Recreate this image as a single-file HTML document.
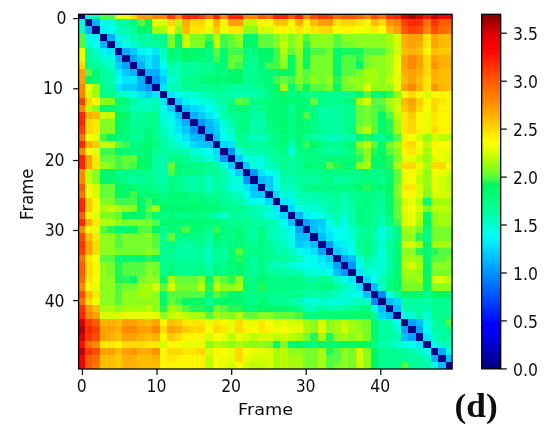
<!DOCTYPE html>
<html><head><meta charset="utf-8"><title>Frame distance matrix (d)</title>
<style>
html,body{margin:0;padding:0;background:#fff;}
body{width:550px;height:430px;overflow:hidden;position:relative;}
svg{position:absolute;left:0;top:0;display:block;}
.t{font-family:"DejaVu Sans","Liberation Sans",sans-serif;font-size:15px;fill:#111;}
.a{font-size:16.5px;}
.d{font-family:"Liberation Serif",serif;font-weight:bold;font-size:33px;fill:#0a0a14;}
</style></head><body>
<svg width="550" height="430" viewBox="0 0 550 430">
<defs>
<linearGradient id="jet" x1="0" y1="1" x2="0" y2="0">
<stop offset="0.0000" stop-color="#000080"/>
<stop offset="0.1108" stop-color="#0000ff"/>
<stop offset="0.1243" stop-color="#0000ff"/>
<stop offset="0.2514" stop-color="#0080ff"/>
<stop offset="0.3405" stop-color="#00dbff"/>
<stop offset="0.3757" stop-color="#00fff2"/>
<stop offset="0.4054" stop-color="#00ffd1"/>
<stop offset="0.4324" stop-color="#00ffad"/>
<stop offset="0.4622" stop-color="#00ff8c"/>
<stop offset="0.4919" stop-color="#00fa73"/>
<stop offset="0.5216" stop-color="#05f761"/>
<stop offset="0.5324" stop-color="#40fa4c"/>
<stop offset="0.5568" stop-color="#7aff26"/>
<stop offset="0.5865" stop-color="#adff08"/>
<stop offset="0.6135" stop-color="#deff00"/>
<stop offset="0.6405" stop-color="#ffff00"/>
<stop offset="0.6757" stop-color="#ffd900"/>
<stop offset="0.7514" stop-color="#ff8c00"/>
<stop offset="0.8108" stop-color="#ff5c00"/>
<stop offset="0.8919" stop-color="#ff0a00"/>
<stop offset="0.9135" stop-color="#fa0000"/>
<stop offset="0.9459" stop-color="#d90000"/>
<stop offset="1.0000" stop-color="#850000"/>
</linearGradient>
<filter id="soft" x="0" y="0" width="100%" height="100%"><feGaussianBlur stdDeviation="0.6"/></filter>
<filter id="tsoft" x="-5%" y="-5%" width="110%" height="110%"><feGaussianBlur stdDeviation="0.45"/></filter>
<clipPath id="cp"><rect x="78.6" y="14.1" width="373.5" height="354.9"/></clipPath>
</defs>
<rect x="0" y="0" width="550" height="430" fill="#fff"/>
<g clip-path="url(#cp)"><g filter="url(#soft)" shape-rendering="crispEdges">
<rect x="78.60" y="14.10" width="6.30" height="5.50" fill="#000080"/>
<rect x="84.60" y="14.10" width="7.83" height="5.50" fill="#00ffd1"/>
<rect x="92.13" y="14.10" width="7.83" height="5.50" fill="#00ffbf"/>
<rect x="99.66" y="14.10" width="15.36" height="5.50" fill="#53fc40"/>
<rect x="114.72" y="14.10" width="15.36" height="5.50" fill="#e8ff00"/>
<rect x="129.78" y="14.10" width="7.83" height="5.50" fill="#ffd900"/>
<rect x="137.30" y="14.10" width="15.36" height="5.50" fill="#ffa200"/>
<rect x="152.36" y="14.10" width="15.36" height="5.50" fill="#ff8800"/>
<rect x="167.42" y="14.10" width="7.83" height="5.50" fill="#ff4100"/>
<rect x="174.95" y="14.10" width="7.83" height="5.50" fill="#ff8800"/>
<rect x="182.48" y="14.10" width="15.36" height="5.50" fill="#ff2500"/>
<rect x="197.54" y="14.10" width="7.83" height="5.50" fill="#ff4100"/>
<rect x="205.07" y="14.10" width="7.83" height="5.50" fill="#ff7200"/>
<rect x="212.60" y="14.10" width="7.83" height="5.50" fill="#ff2500"/>
<rect x="220.13" y="14.10" width="7.83" height="5.50" fill="#ff8800"/>
<rect x="227.65" y="14.10" width="15.36" height="5.50" fill="#ff2500"/>
<rect x="242.71" y="14.10" width="15.36" height="5.50" fill="#ff8800"/>
<rect x="257.77" y="14.10" width="7.83" height="5.50" fill="#ff5c00"/>
<rect x="265.30" y="14.10" width="7.83" height="5.50" fill="#ff7200"/>
<rect x="272.83" y="14.10" width="15.36" height="5.50" fill="#ff2500"/>
<rect x="287.89" y="14.10" width="7.83" height="5.50" fill="#ff5c00"/>
<rect x="295.42" y="14.10" width="7.83" height="5.50" fill="#ff2500"/>
<rect x="302.95" y="14.10" width="7.83" height="5.50" fill="#ff8800"/>
<rect x="310.47" y="14.10" width="7.83" height="5.50" fill="#ff4e00"/>
<rect x="318.00" y="14.10" width="7.83" height="5.50" fill="#ff3300"/>
<rect x="325.53" y="14.10" width="7.83" height="5.50" fill="#ff4100"/>
<rect x="333.06" y="14.10" width="7.83" height="5.50" fill="#ff7200"/>
<rect x="340.59" y="14.10" width="15.36" height="5.50" fill="#ff5c00"/>
<rect x="355.65" y="14.10" width="7.83" height="5.50" fill="#ff6700"/>
<rect x="363.18" y="14.10" width="7.83" height="5.50" fill="#ff8800"/>
<rect x="370.71" y="14.10" width="7.83" height="5.50" fill="#ff4e00"/>
<rect x="378.24" y="14.10" width="7.83" height="5.50" fill="#ff7200"/>
<rect x="385.77" y="14.10" width="7.83" height="5.50" fill="#ff3300"/>
<rect x="393.30" y="14.10" width="7.83" height="5.50" fill="#ff2500"/>
<rect x="400.82" y="14.10" width="7.83" height="5.50" fill="#d90000"/>
<rect x="408.35" y="14.10" width="7.83" height="5.50" fill="#af0000"/>
<rect x="415.88" y="14.10" width="7.83" height="5.50" fill="#d90000"/>
<rect x="423.41" y="14.10" width="7.83" height="5.50" fill="#ff0a00"/>
<rect x="430.94" y="14.10" width="7.83" height="5.50" fill="#c40000"/>
<rect x="438.47" y="14.10" width="13.93" height="5.50" fill="#f40000"/>
<rect x="78.60" y="19.30" width="6.30" height="7.44" fill="#00ffd1"/>
<rect x="84.60" y="19.30" width="7.83" height="7.44" fill="#000080"/>
<rect x="92.13" y="19.30" width="7.83" height="7.44" fill="#00afff"/>
<rect x="99.66" y="19.30" width="7.83" height="7.44" fill="#00ffe9"/>
<rect x="107.19" y="19.30" width="7.83" height="7.44" fill="#00ffdd"/>
<rect x="114.72" y="19.30" width="15.36" height="7.44" fill="#00ff9e"/>
<rect x="129.78" y="19.30" width="7.83" height="7.44" fill="#00fd83"/>
<rect x="137.30" y="19.30" width="7.83" height="7.44" fill="#53fc40"/>
<rect x="144.83" y="19.30" width="7.83" height="7.44" fill="#04f866"/>
<rect x="152.36" y="19.30" width="7.83" height="7.44" fill="#e8ff00"/>
<rect x="159.89" y="19.30" width="7.83" height="7.44" fill="#d4ff02"/>
<rect x="167.42" y="19.30" width="7.83" height="7.44" fill="#ffd900"/>
<rect x="174.95" y="19.30" width="7.83" height="7.44" fill="#bcff05"/>
<rect x="182.48" y="19.30" width="7.83" height="7.44" fill="#ffb000"/>
<rect x="190.01" y="19.30" width="15.36" height="7.44" fill="#ffd900"/>
<rect x="205.07" y="19.30" width="7.83" height="7.44" fill="#f8ff00"/>
<rect x="212.60" y="19.30" width="7.83" height="7.44" fill="#ffb000"/>
<rect x="220.13" y="19.30" width="7.83" height="7.44" fill="#fff600"/>
<rect x="227.65" y="19.30" width="15.36" height="7.44" fill="#ffa200"/>
<rect x="242.71" y="19.30" width="15.36" height="7.44" fill="#bcff05"/>
<rect x="257.77" y="19.30" width="7.83" height="7.44" fill="#fff600"/>
<rect x="265.30" y="19.30" width="7.83" height="7.44" fill="#f8ff00"/>
<rect x="272.83" y="19.30" width="15.36" height="7.44" fill="#ffcb00"/>
<rect x="287.89" y="19.30" width="7.83" height="7.44" fill="#fff600"/>
<rect x="295.42" y="19.30" width="7.83" height="7.44" fill="#ffb000"/>
<rect x="302.95" y="19.30" width="7.83" height="7.44" fill="#fff600"/>
<rect x="310.47" y="19.30" width="7.83" height="7.44" fill="#ffbd00"/>
<rect x="318.00" y="19.30" width="15.36" height="7.44" fill="#ffa200"/>
<rect x="333.06" y="19.30" width="7.83" height="7.44" fill="#ffe700"/>
<rect x="340.59" y="19.30" width="15.36" height="7.44" fill="#ffd900"/>
<rect x="355.65" y="19.30" width="7.83" height="7.44" fill="#ffe700"/>
<rect x="363.18" y="19.30" width="7.83" height="7.44" fill="#fff600"/>
<rect x="370.71" y="19.30" width="7.83" height="7.44" fill="#ffbd00"/>
<rect x="378.24" y="19.30" width="7.83" height="7.44" fill="#ffd900"/>
<rect x="385.77" y="19.30" width="7.83" height="7.44" fill="#ff9400"/>
<rect x="393.30" y="19.30" width="7.83" height="7.44" fill="#ff8800"/>
<rect x="400.82" y="19.30" width="7.83" height="7.44" fill="#ff4100"/>
<rect x="408.35" y="19.30" width="7.83" height="7.44" fill="#ff2500"/>
<rect x="415.88" y="19.30" width="7.83" height="7.44" fill="#ff3300"/>
<rect x="423.41" y="19.30" width="7.83" height="7.44" fill="#ff7200"/>
<rect x="430.94" y="19.30" width="7.83" height="7.44" fill="#ff3300"/>
<rect x="438.47" y="19.30" width="13.93" height="7.44" fill="#ff5c00"/>
<rect x="78.60" y="26.44" width="6.30" height="7.44" fill="#00ffbf"/>
<rect x="84.60" y="26.44" width="7.83" height="7.44" fill="#00afff"/>
<rect x="92.13" y="26.44" width="7.83" height="7.44" fill="#000080"/>
<rect x="99.66" y="26.44" width="7.83" height="7.44" fill="#00f4f6"/>
<rect x="107.19" y="26.44" width="7.83" height="7.44" fill="#00ffef"/>
<rect x="114.72" y="26.44" width="7.83" height="7.44" fill="#00ffbf"/>
<rect x="122.25" y="26.44" width="7.83" height="7.44" fill="#00ffad"/>
<rect x="129.78" y="26.44" width="7.83" height="7.44" fill="#00ff9e"/>
<rect x="137.30" y="26.44" width="7.83" height="7.44" fill="#04f866"/>
<rect x="144.83" y="26.44" width="7.83" height="7.44" fill="#00fb77"/>
<rect x="152.36" y="26.44" width="15.36" height="7.44" fill="#a4ff0d"/>
<rect x="167.42" y="26.44" width="7.83" height="7.44" fill="#fff600"/>
<rect x="174.95" y="26.44" width="7.83" height="7.44" fill="#8dff1b"/>
<rect x="182.48" y="26.44" width="7.83" height="7.44" fill="#ffbd00"/>
<rect x="190.01" y="26.44" width="15.36" height="7.44" fill="#ffe700"/>
<rect x="205.07" y="26.44" width="7.83" height="7.44" fill="#e8ff00"/>
<rect x="212.60" y="26.44" width="7.83" height="7.44" fill="#ffcb00"/>
<rect x="220.13" y="26.44" width="7.83" height="7.44" fill="#e8ff00"/>
<rect x="227.65" y="26.44" width="15.36" height="7.44" fill="#ffe700"/>
<rect x="242.71" y="26.44" width="15.36" height="7.44" fill="#8dff1b"/>
<rect x="257.77" y="26.44" width="15.36" height="7.44" fill="#d4ff02"/>
<rect x="272.83" y="26.44" width="15.36" height="7.44" fill="#fff600"/>
<rect x="287.89" y="26.44" width="7.83" height="7.44" fill="#e8ff00"/>
<rect x="295.42" y="26.44" width="7.83" height="7.44" fill="#ffe700"/>
<rect x="302.95" y="26.44" width="7.83" height="7.44" fill="#e8ff00"/>
<rect x="310.47" y="26.44" width="7.83" height="7.44" fill="#ffe700"/>
<rect x="318.00" y="26.44" width="15.36" height="7.44" fill="#ffd900"/>
<rect x="333.06" y="26.44" width="7.83" height="7.44" fill="#f8ff00"/>
<rect x="340.59" y="26.44" width="15.36" height="7.44" fill="#fff600"/>
<rect x="355.65" y="26.44" width="7.83" height="7.44" fill="#f8ff00"/>
<rect x="363.18" y="26.44" width="7.83" height="7.44" fill="#e8ff00"/>
<rect x="370.71" y="26.44" width="7.83" height="7.44" fill="#ffe700"/>
<rect x="378.24" y="26.44" width="7.83" height="7.44" fill="#f8ff00"/>
<rect x="385.77" y="26.44" width="7.83" height="7.44" fill="#ffbd00"/>
<rect x="393.30" y="26.44" width="7.83" height="7.44" fill="#ffa200"/>
<rect x="400.82" y="26.44" width="7.83" height="7.44" fill="#ff5c00"/>
<rect x="408.35" y="26.44" width="7.83" height="7.44" fill="#ff4100"/>
<rect x="415.88" y="26.44" width="7.83" height="7.44" fill="#ff4e00"/>
<rect x="423.41" y="26.44" width="7.83" height="7.44" fill="#ff8800"/>
<rect x="430.94" y="26.44" width="7.83" height="7.44" fill="#ff4e00"/>
<rect x="438.47" y="26.44" width="7.83" height="7.44" fill="#ff6700"/>
<rect x="446.00" y="26.44" width="6.40" height="7.44" fill="#ff7200"/>
<rect x="78.60" y="33.58" width="6.30" height="7.44" fill="#53fc40"/>
<rect x="84.60" y="33.58" width="7.83" height="7.44" fill="#00ffe9"/>
<rect x="92.13" y="33.58" width="7.83" height="7.44" fill="#00f4f6"/>
<rect x="99.66" y="33.58" width="7.83" height="7.44" fill="#000080"/>
<rect x="107.19" y="33.58" width="7.83" height="7.44" fill="#00afff"/>
<rect x="114.72" y="33.58" width="7.83" height="7.44" fill="#00f4f6"/>
<rect x="122.25" y="33.58" width="7.83" height="7.44" fill="#00ffd1"/>
<rect x="129.78" y="33.58" width="7.83" height="7.44" fill="#00ffad"/>
<rect x="137.30" y="33.58" width="15.36" height="7.44" fill="#00ff9e"/>
<rect x="152.36" y="33.58" width="15.36" height="7.44" fill="#00ff8a"/>
<rect x="167.42" y="33.58" width="7.83" height="7.44" fill="#7fff23"/>
<rect x="174.95" y="33.58" width="7.83" height="7.44" fill="#02f96b"/>
<rect x="182.48" y="33.58" width="7.83" height="7.44" fill="#c6ff04"/>
<rect x="190.01" y="33.58" width="15.36" height="7.44" fill="#7fff23"/>
<rect x="205.07" y="33.58" width="7.83" height="7.44" fill="#40fa4c"/>
<rect x="212.60" y="33.58" width="7.83" height="7.44" fill="#c6ff04"/>
<rect x="220.13" y="33.58" width="7.83" height="7.44" fill="#40fa4c"/>
<rect x="227.65" y="33.58" width="7.83" height="7.44" fill="#60fd37"/>
<rect x="235.18" y="33.58" width="7.83" height="7.44" fill="#96ff16"/>
<rect x="242.71" y="33.58" width="15.36" height="7.44" fill="#02f96b"/>
<rect x="257.77" y="33.58" width="15.36" height="7.44" fill="#60fd37"/>
<rect x="272.83" y="33.58" width="7.83" height="7.44" fill="#7fff23"/>
<rect x="280.36" y="33.58" width="7.83" height="7.44" fill="#adff08"/>
<rect x="287.89" y="33.58" width="7.83" height="7.44" fill="#7fff23"/>
<rect x="295.42" y="33.58" width="7.83" height="7.44" fill="#adff08"/>
<rect x="302.95" y="33.58" width="7.83" height="7.44" fill="#53fc40"/>
<rect x="310.47" y="33.58" width="22.89" height="7.44" fill="#8dff1b"/>
<rect x="333.06" y="33.58" width="7.83" height="7.44" fill="#53fc40"/>
<rect x="340.59" y="33.58" width="45.47" height="7.44" fill="#8dff1b"/>
<rect x="385.77" y="33.58" width="7.83" height="7.44" fill="#a4ff0d"/>
<rect x="393.30" y="33.58" width="7.83" height="7.44" fill="#d4ff02"/>
<rect x="400.82" y="33.58" width="7.83" height="7.44" fill="#ffb000"/>
<rect x="408.35" y="33.58" width="15.36" height="7.44" fill="#ffa200"/>
<rect x="423.41" y="33.58" width="7.83" height="7.44" fill="#ffe700"/>
<rect x="430.94" y="33.58" width="7.83" height="7.44" fill="#ffa200"/>
<rect x="438.47" y="33.58" width="13.93" height="7.44" fill="#ffbd00"/>
<rect x="78.60" y="40.72" width="6.30" height="7.44" fill="#53fc40"/>
<rect x="84.60" y="40.72" width="7.83" height="7.44" fill="#00ffdd"/>
<rect x="92.13" y="40.72" width="7.83" height="7.44" fill="#00ffef"/>
<rect x="99.66" y="40.72" width="7.83" height="7.44" fill="#00afff"/>
<rect x="107.19" y="40.72" width="7.83" height="7.44" fill="#000080"/>
<rect x="114.72" y="40.72" width="7.83" height="7.44" fill="#00e6fb"/>
<rect x="122.25" y="40.72" width="7.83" height="7.44" fill="#00ffe0"/>
<rect x="129.78" y="40.72" width="7.83" height="7.44" fill="#00ffd1"/>
<rect x="137.30" y="40.72" width="15.36" height="7.44" fill="#00ffad"/>
<rect x="152.36" y="40.72" width="7.83" height="7.44" fill="#00ff98"/>
<rect x="159.89" y="40.72" width="7.83" height="7.44" fill="#00ff8a"/>
<rect x="167.42" y="40.72" width="7.83" height="7.44" fill="#7fff23"/>
<rect x="174.95" y="40.72" width="7.83" height="7.44" fill="#02f96b"/>
<rect x="182.48" y="40.72" width="7.83" height="7.44" fill="#c6ff04"/>
<rect x="190.01" y="40.72" width="15.36" height="7.44" fill="#7fff23"/>
<rect x="205.07" y="40.72" width="7.83" height="7.44" fill="#05f863"/>
<rect x="212.60" y="40.72" width="7.83" height="7.44" fill="#c6ff04"/>
<rect x="220.13" y="40.72" width="7.83" height="7.44" fill="#40fa4c"/>
<rect x="227.65" y="40.72" width="7.83" height="7.44" fill="#60fd37"/>
<rect x="235.18" y="40.72" width="7.83" height="7.44" fill="#7fff23"/>
<rect x="242.71" y="40.72" width="15.36" height="7.44" fill="#02f96b"/>
<rect x="257.77" y="40.72" width="15.36" height="7.44" fill="#60fd37"/>
<rect x="272.83" y="40.72" width="7.83" height="7.44" fill="#7fff23"/>
<rect x="280.36" y="40.72" width="7.83" height="7.44" fill="#c6ff04"/>
<rect x="287.89" y="40.72" width="7.83" height="7.44" fill="#7fff23"/>
<rect x="295.42" y="40.72" width="7.83" height="7.44" fill="#adff08"/>
<rect x="302.95" y="40.72" width="7.83" height="7.44" fill="#22f957"/>
<rect x="310.47" y="40.72" width="22.89" height="7.44" fill="#8dff1b"/>
<rect x="333.06" y="40.72" width="7.83" height="7.44" fill="#53fc40"/>
<rect x="340.59" y="40.72" width="15.36" height="7.44" fill="#74fe2b"/>
<rect x="355.65" y="40.72" width="30.42" height="7.44" fill="#8dff1b"/>
<rect x="385.77" y="40.72" width="7.83" height="7.44" fill="#a4ff0d"/>
<rect x="393.30" y="40.72" width="7.83" height="7.44" fill="#d4ff02"/>
<rect x="400.82" y="40.72" width="7.83" height="7.44" fill="#ffb000"/>
<rect x="408.35" y="40.72" width="7.83" height="7.44" fill="#ffa200"/>
<rect x="415.88" y="40.72" width="7.83" height="7.44" fill="#ffb000"/>
<rect x="423.41" y="40.72" width="7.83" height="7.44" fill="#ffe700"/>
<rect x="430.94" y="40.72" width="7.83" height="7.44" fill="#ffa200"/>
<rect x="438.47" y="40.72" width="13.93" height="7.44" fill="#ffbd00"/>
<rect x="78.60" y="47.86" width="6.30" height="7.44" fill="#e8ff00"/>
<rect x="84.60" y="47.86" width="7.83" height="7.44" fill="#00ff9e"/>
<rect x="92.13" y="47.86" width="7.83" height="7.44" fill="#00ffbf"/>
<rect x="99.66" y="47.86" width="7.83" height="7.44" fill="#00f4f6"/>
<rect x="107.19" y="47.86" width="7.83" height="7.44" fill="#00e6fb"/>
<rect x="114.72" y="47.86" width="7.83" height="7.44" fill="#000080"/>
<rect x="122.25" y="47.86" width="7.83" height="7.44" fill="#00afff"/>
<rect x="129.78" y="47.86" width="7.83" height="7.44" fill="#00cbff"/>
<rect x="137.30" y="47.86" width="7.83" height="7.44" fill="#00f4f6"/>
<rect x="144.83" y="47.86" width="7.83" height="7.44" fill="#00ffef"/>
<rect x="152.36" y="47.86" width="7.83" height="7.44" fill="#00e6fb"/>
<rect x="159.89" y="47.86" width="7.83" height="7.44" fill="#00ffb8"/>
<rect x="167.42" y="47.86" width="7.83" height="7.44" fill="#02f96b"/>
<rect x="174.95" y="47.86" width="7.83" height="7.44" fill="#00fc7e"/>
<rect x="182.48" y="47.86" width="7.83" height="7.44" fill="#05f863"/>
<rect x="190.01" y="47.86" width="15.36" height="7.44" fill="#02f96b"/>
<rect x="205.07" y="47.86" width="7.83" height="7.44" fill="#00fc7e"/>
<rect x="212.60" y="47.86" width="7.83" height="7.44" fill="#60fd37"/>
<rect x="220.13" y="47.86" width="7.83" height="7.44" fill="#02f96b"/>
<rect x="227.65" y="47.86" width="15.36" height="7.44" fill="#40fa4c"/>
<rect x="242.71" y="47.86" width="15.36" height="7.44" fill="#00fc7e"/>
<rect x="257.77" y="47.86" width="7.83" height="7.44" fill="#02f96b"/>
<rect x="265.30" y="47.86" width="7.83" height="7.44" fill="#05f863"/>
<rect x="272.83" y="47.86" width="7.83" height="7.44" fill="#40fa4c"/>
<rect x="280.36" y="47.86" width="7.83" height="7.44" fill="#adff08"/>
<rect x="287.89" y="47.86" width="7.83" height="7.44" fill="#60fd37"/>
<rect x="295.42" y="47.86" width="7.83" height="7.44" fill="#96ff16"/>
<rect x="302.95" y="47.86" width="7.83" height="7.44" fill="#03f867"/>
<rect x="310.47" y="47.86" width="15.36" height="7.44" fill="#4dfb44"/>
<rect x="325.53" y="47.86" width="7.83" height="7.44" fill="#6dfe2f"/>
<rect x="333.06" y="47.86" width="7.83" height="7.44" fill="#01f970"/>
<rect x="340.59" y="47.86" width="22.89" height="7.44" fill="#14f85c"/>
<rect x="363.18" y="47.86" width="15.36" height="7.44" fill="#4dfb44"/>
<rect x="378.24" y="47.86" width="7.83" height="7.44" fill="#53fc40"/>
<rect x="385.77" y="47.86" width="7.83" height="7.44" fill="#8dff1b"/>
<rect x="393.30" y="47.86" width="7.83" height="7.44" fill="#d4ff02"/>
<rect x="400.82" y="47.86" width="7.83" height="7.44" fill="#ffbd00"/>
<rect x="408.35" y="47.86" width="7.83" height="7.44" fill="#ffb000"/>
<rect x="415.88" y="47.86" width="7.83" height="7.44" fill="#ffbd00"/>
<rect x="423.41" y="47.86" width="7.83" height="7.44" fill="#fff600"/>
<rect x="430.94" y="47.86" width="7.83" height="7.44" fill="#ffbd00"/>
<rect x="438.47" y="47.86" width="13.93" height="7.44" fill="#ffcb00"/>
<rect x="78.60" y="55.00" width="6.30" height="7.44" fill="#e8ff00"/>
<rect x="84.60" y="55.00" width="7.83" height="7.44" fill="#00ff9e"/>
<rect x="92.13" y="55.00" width="7.83" height="7.44" fill="#00ffad"/>
<rect x="99.66" y="55.00" width="7.83" height="7.44" fill="#00ffd1"/>
<rect x="107.19" y="55.00" width="7.83" height="7.44" fill="#00ffe0"/>
<rect x="114.72" y="55.00" width="7.83" height="7.44" fill="#00afff"/>
<rect x="122.25" y="55.00" width="7.83" height="7.44" fill="#000080"/>
<rect x="129.78" y="55.00" width="7.83" height="7.44" fill="#00a1ff"/>
<rect x="137.30" y="55.00" width="7.83" height="7.44" fill="#00cbff"/>
<rect x="144.83" y="55.00" width="7.83" height="7.44" fill="#00e6fb"/>
<rect x="152.36" y="55.00" width="7.83" height="7.44" fill="#00cbff"/>
<rect x="159.89" y="55.00" width="7.83" height="7.44" fill="#00ffca"/>
<rect x="167.42" y="55.00" width="7.83" height="7.44" fill="#00fa73"/>
<rect x="174.95" y="55.00" width="7.83" height="7.44" fill="#00ff8a"/>
<rect x="182.48" y="55.00" width="7.83" height="7.44" fill="#02f96b"/>
<rect x="190.01" y="55.00" width="15.36" height="7.44" fill="#00fa73"/>
<rect x="205.07" y="55.00" width="7.83" height="7.44" fill="#00fc7e"/>
<rect x="212.60" y="55.00" width="7.83" height="7.44" fill="#40fa4c"/>
<rect x="220.13" y="55.00" width="7.83" height="7.44" fill="#00fa73"/>
<rect x="227.65" y="55.00" width="15.36" height="7.44" fill="#60fd37"/>
<rect x="242.71" y="55.00" width="7.83" height="7.44" fill="#00fc7e"/>
<rect x="250.24" y="55.00" width="7.83" height="7.44" fill="#00ff8a"/>
<rect x="257.77" y="55.00" width="15.36" height="7.44" fill="#02f96b"/>
<rect x="272.83" y="55.00" width="7.83" height="7.44" fill="#40fa4c"/>
<rect x="280.36" y="55.00" width="7.83" height="7.44" fill="#96ff16"/>
<rect x="287.89" y="55.00" width="7.83" height="7.44" fill="#05f863"/>
<rect x="295.42" y="55.00" width="7.83" height="7.44" fill="#7fff23"/>
<rect x="302.95" y="55.00" width="7.83" height="7.44" fill="#01f96e"/>
<rect x="310.47" y="55.00" width="22.89" height="7.44" fill="#74fe2b"/>
<rect x="333.06" y="55.00" width="7.83" height="7.44" fill="#01f96e"/>
<rect x="340.59" y="55.00" width="15.36" height="7.44" fill="#53fc40"/>
<rect x="355.65" y="55.00" width="7.83" height="7.44" fill="#22f957"/>
<rect x="363.18" y="55.00" width="7.83" height="7.44" fill="#74fe2b"/>
<rect x="370.71" y="55.00" width="15.36" height="7.44" fill="#8dff1b"/>
<rect x="385.77" y="55.00" width="7.83" height="7.44" fill="#a4ff0d"/>
<rect x="393.30" y="55.00" width="7.83" height="7.44" fill="#e8ff00"/>
<rect x="400.82" y="55.00" width="7.83" height="7.44" fill="#ffa200"/>
<rect x="408.35" y="55.00" width="7.83" height="7.44" fill="#ff8800"/>
<rect x="415.88" y="55.00" width="7.83" height="7.44" fill="#ffa200"/>
<rect x="423.41" y="55.00" width="7.83" height="7.44" fill="#ffd900"/>
<rect x="430.94" y="55.00" width="7.83" height="7.44" fill="#ffa200"/>
<rect x="438.47" y="55.00" width="13.93" height="7.44" fill="#ffb000"/>
<rect x="78.60" y="62.14" width="6.30" height="7.44" fill="#ffd900"/>
<rect x="84.60" y="62.14" width="7.83" height="7.44" fill="#00fd83"/>
<rect x="92.13" y="62.14" width="7.83" height="7.44" fill="#00ff9e"/>
<rect x="99.66" y="62.14" width="7.83" height="7.44" fill="#00ffad"/>
<rect x="107.19" y="62.14" width="7.83" height="7.44" fill="#00ffd1"/>
<rect x="114.72" y="62.14" width="7.83" height="7.44" fill="#00cbff"/>
<rect x="122.25" y="62.14" width="7.83" height="7.44" fill="#00a1ff"/>
<rect x="129.78" y="62.14" width="7.83" height="7.44" fill="#000080"/>
<rect x="137.30" y="62.14" width="7.83" height="7.44" fill="#00afff"/>
<rect x="144.83" y="62.14" width="7.83" height="7.44" fill="#00e6fb"/>
<rect x="152.36" y="62.14" width="7.83" height="7.44" fill="#00cbff"/>
<rect x="159.89" y="62.14" width="7.83" height="7.44" fill="#00ffef"/>
<rect x="167.42" y="62.14" width="7.83" height="7.44" fill="#00ffa7"/>
<rect x="174.95" y="62.14" width="7.83" height="7.44" fill="#00ffb8"/>
<rect x="182.48" y="62.14" width="15.36" height="7.44" fill="#00ff98"/>
<rect x="197.54" y="62.14" width="7.83" height="7.44" fill="#00ff8a"/>
<rect x="205.07" y="62.14" width="7.83" height="7.44" fill="#00ff98"/>
<rect x="212.60" y="62.14" width="15.36" height="7.44" fill="#00fc7e"/>
<rect x="227.65" y="62.14" width="7.83" height="7.44" fill="#60fd37"/>
<rect x="235.18" y="62.14" width="7.83" height="7.44" fill="#40fa4c"/>
<rect x="242.71" y="62.14" width="7.83" height="7.44" fill="#00ff8a"/>
<rect x="250.24" y="62.14" width="7.83" height="7.44" fill="#00ff98"/>
<rect x="257.77" y="62.14" width="7.83" height="7.44" fill="#00fa73"/>
<rect x="265.30" y="62.14" width="15.36" height="7.44" fill="#40fa4c"/>
<rect x="280.36" y="62.14" width="7.83" height="7.44" fill="#7fff23"/>
<rect x="287.89" y="62.14" width="7.83" height="7.44" fill="#05f863"/>
<rect x="295.42" y="62.14" width="7.83" height="7.44" fill="#7fff23"/>
<rect x="302.95" y="62.14" width="7.83" height="7.44" fill="#04f866"/>
<rect x="310.47" y="62.14" width="22.89" height="7.44" fill="#74fe2b"/>
<rect x="333.06" y="62.14" width="7.83" height="7.44" fill="#01f96e"/>
<rect x="340.59" y="62.14" width="15.36" height="7.44" fill="#53fc40"/>
<rect x="355.65" y="62.14" width="7.83" height="7.44" fill="#04f866"/>
<rect x="363.18" y="62.14" width="7.83" height="7.44" fill="#74fe2b"/>
<rect x="370.71" y="62.14" width="15.36" height="7.44" fill="#8dff1b"/>
<rect x="385.77" y="62.14" width="7.83" height="7.44" fill="#a4ff0d"/>
<rect x="393.30" y="62.14" width="7.83" height="7.44" fill="#e8ff00"/>
<rect x="400.82" y="62.14" width="7.83" height="7.44" fill="#ffa200"/>
<rect x="408.35" y="62.14" width="7.83" height="7.44" fill="#ff8800"/>
<rect x="415.88" y="62.14" width="7.83" height="7.44" fill="#ffa200"/>
<rect x="423.41" y="62.14" width="7.83" height="7.44" fill="#ffd900"/>
<rect x="430.94" y="62.14" width="7.83" height="7.44" fill="#ff9400"/>
<rect x="438.47" y="62.14" width="13.93" height="7.44" fill="#ffb000"/>
<rect x="78.60" y="69.28" width="6.30" height="7.44" fill="#ffa200"/>
<rect x="84.60" y="69.28" width="7.83" height="7.44" fill="#53fc40"/>
<rect x="92.13" y="69.28" width="7.83" height="7.44" fill="#04f866"/>
<rect x="99.66" y="69.28" width="7.83" height="7.44" fill="#00ff9e"/>
<rect x="107.19" y="69.28" width="7.83" height="7.44" fill="#00ffad"/>
<rect x="114.72" y="69.28" width="7.83" height="7.44" fill="#00f4f6"/>
<rect x="122.25" y="69.28" width="7.83" height="7.44" fill="#00cbff"/>
<rect x="129.78" y="69.28" width="7.83" height="7.44" fill="#00afff"/>
<rect x="137.30" y="69.28" width="7.83" height="7.44" fill="#000080"/>
<rect x="144.83" y="69.28" width="15.36" height="7.44" fill="#00afff"/>
<rect x="159.89" y="69.28" width="7.83" height="7.44" fill="#00e6fb"/>
<rect x="167.42" y="69.28" width="15.36" height="7.44" fill="#00ffb8"/>
<rect x="182.48" y="69.28" width="15.36" height="7.44" fill="#00ff98"/>
<rect x="197.54" y="69.28" width="15.36" height="7.44" fill="#00ff8a"/>
<rect x="212.60" y="69.28" width="15.36" height="7.44" fill="#00fc7e"/>
<rect x="227.65" y="69.28" width="15.36" height="7.44" fill="#02f96b"/>
<rect x="242.71" y="69.28" width="7.83" height="7.44" fill="#00ff8a"/>
<rect x="250.24" y="69.28" width="7.83" height="7.44" fill="#00ff98"/>
<rect x="257.77" y="69.28" width="7.83" height="7.44" fill="#00fc7e"/>
<rect x="265.30" y="69.28" width="7.83" height="7.44" fill="#00fa73"/>
<rect x="272.83" y="69.28" width="7.83" height="7.44" fill="#02f96b"/>
<rect x="280.36" y="69.28" width="15.36" height="7.44" fill="#05f863"/>
<rect x="295.42" y="69.28" width="7.83" height="7.44" fill="#7fff23"/>
<rect x="302.95" y="69.28" width="7.83" height="7.44" fill="#53fc40"/>
<rect x="310.47" y="69.28" width="22.89" height="7.44" fill="#74fe2b"/>
<rect x="333.06" y="69.28" width="7.83" height="7.44" fill="#04f866"/>
<rect x="340.59" y="69.28" width="15.36" height="7.44" fill="#53fc40"/>
<rect x="355.65" y="69.28" width="7.83" height="7.44" fill="#74fe2b"/>
<rect x="363.18" y="69.28" width="15.36" height="7.44" fill="#a4ff0d"/>
<rect x="378.24" y="69.28" width="7.83" height="7.44" fill="#8dff1b"/>
<rect x="385.77" y="69.28" width="7.83" height="7.44" fill="#a4ff0d"/>
<rect x="393.30" y="69.28" width="7.83" height="7.44" fill="#e8ff00"/>
<rect x="400.82" y="69.28" width="7.83" height="7.44" fill="#ffb000"/>
<rect x="408.35" y="69.28" width="7.83" height="7.44" fill="#ffa200"/>
<rect x="415.88" y="69.28" width="7.83" height="7.44" fill="#ffb000"/>
<rect x="423.41" y="69.28" width="7.83" height="7.44" fill="#ffd900"/>
<rect x="430.94" y="69.28" width="7.83" height="7.44" fill="#ffb000"/>
<rect x="438.47" y="69.28" width="13.93" height="7.44" fill="#ffbd00"/>
<rect x="78.60" y="76.42" width="6.30" height="7.44" fill="#ffa200"/>
<rect x="84.60" y="76.42" width="7.83" height="7.44" fill="#04f866"/>
<rect x="92.13" y="76.42" width="7.83" height="7.44" fill="#00fb77"/>
<rect x="99.66" y="76.42" width="7.83" height="7.44" fill="#00ff9e"/>
<rect x="107.19" y="76.42" width="7.83" height="7.44" fill="#00ffad"/>
<rect x="114.72" y="76.42" width="7.83" height="7.44" fill="#00ffef"/>
<rect x="122.25" y="76.42" width="15.36" height="7.44" fill="#00e6fb"/>
<rect x="137.30" y="76.42" width="7.83" height="7.44" fill="#00afff"/>
<rect x="144.83" y="76.42" width="7.83" height="7.44" fill="#000080"/>
<rect x="152.36" y="76.42" width="7.83" height="7.44" fill="#0093ff"/>
<rect x="159.89" y="76.42" width="7.83" height="7.44" fill="#00cbff"/>
<rect x="167.42" y="76.42" width="7.83" height="7.44" fill="#00ffca"/>
<rect x="174.95" y="76.42" width="7.83" height="7.44" fill="#00ffb8"/>
<rect x="182.48" y="76.42" width="15.36" height="7.44" fill="#00ff8a"/>
<rect x="197.54" y="76.42" width="7.83" height="7.44" fill="#00fc7e"/>
<rect x="205.07" y="76.42" width="7.83" height="7.44" fill="#00fa73"/>
<rect x="212.60" y="76.42" width="7.83" height="7.44" fill="#02f96b"/>
<rect x="220.13" y="76.42" width="7.83" height="7.44" fill="#00fa73"/>
<rect x="227.65" y="76.42" width="15.36" height="7.44" fill="#02f96b"/>
<rect x="242.71" y="76.42" width="15.36" height="7.44" fill="#00ff8a"/>
<rect x="257.77" y="76.42" width="7.83" height="7.44" fill="#00fc7e"/>
<rect x="265.30" y="76.42" width="7.83" height="7.44" fill="#00fa73"/>
<rect x="272.83" y="76.42" width="7.83" height="7.44" fill="#40fa4c"/>
<rect x="280.36" y="76.42" width="7.83" height="7.44" fill="#60fd37"/>
<rect x="287.89" y="76.42" width="7.83" height="7.44" fill="#40fa4c"/>
<rect x="295.42" y="76.42" width="7.83" height="7.44" fill="#7fff23"/>
<rect x="302.95" y="76.42" width="7.83" height="7.44" fill="#53fc40"/>
<rect x="310.47" y="76.42" width="7.83" height="7.44" fill="#8dff1b"/>
<rect x="318.00" y="76.42" width="7.83" height="7.44" fill="#74fe2b"/>
<rect x="325.53" y="76.42" width="7.83" height="7.44" fill="#8dff1b"/>
<rect x="333.06" y="76.42" width="7.83" height="7.44" fill="#22f957"/>
<rect x="340.59" y="76.42" width="7.83" height="7.44" fill="#74fe2b"/>
<rect x="348.12" y="76.42" width="15.36" height="7.44" fill="#8dff1b"/>
<rect x="363.18" y="76.42" width="15.36" height="7.44" fill="#a4ff0d"/>
<rect x="378.24" y="76.42" width="7.83" height="7.44" fill="#8dff1b"/>
<rect x="385.77" y="76.42" width="7.83" height="7.44" fill="#bcff05"/>
<rect x="393.30" y="76.42" width="7.83" height="7.44" fill="#e8ff00"/>
<rect x="400.82" y="76.42" width="7.83" height="7.44" fill="#ffbd00"/>
<rect x="408.35" y="76.42" width="7.83" height="7.44" fill="#ffa200"/>
<rect x="415.88" y="76.42" width="7.83" height="7.44" fill="#ffbd00"/>
<rect x="423.41" y="76.42" width="7.83" height="7.44" fill="#ffe700"/>
<rect x="430.94" y="76.42" width="7.83" height="7.44" fill="#ffb000"/>
<rect x="438.47" y="76.42" width="13.93" height="7.44" fill="#ffbd00"/>
<rect x="78.60" y="83.56" width="6.30" height="7.44" fill="#ff8800"/>
<rect x="84.60" y="83.56" width="7.83" height="7.44" fill="#e8ff00"/>
<rect x="92.13" y="83.56" width="7.83" height="7.44" fill="#a4ff0d"/>
<rect x="99.66" y="83.56" width="7.83" height="7.44" fill="#00ff8a"/>
<rect x="107.19" y="83.56" width="7.83" height="7.44" fill="#00ff98"/>
<rect x="114.72" y="83.56" width="7.83" height="7.44" fill="#00e6fb"/>
<rect x="122.25" y="83.56" width="15.36" height="7.44" fill="#00cbff"/>
<rect x="137.30" y="83.56" width="7.83" height="7.44" fill="#00afff"/>
<rect x="144.83" y="83.56" width="7.83" height="7.44" fill="#0093ff"/>
<rect x="152.36" y="83.56" width="7.83" height="7.44" fill="#000080"/>
<rect x="159.89" y="83.56" width="7.83" height="7.44" fill="#00e6fb"/>
<rect x="167.42" y="83.56" width="15.36" height="7.44" fill="#00ffad"/>
<rect x="182.48" y="83.56" width="30.42" height="7.44" fill="#00ff8f"/>
<rect x="212.60" y="83.56" width="7.83" height="7.44" fill="#00fd83"/>
<rect x="220.13" y="83.56" width="7.83" height="7.44" fill="#00ff8f"/>
<rect x="227.65" y="83.56" width="30.42" height="7.44" fill="#00ff9e"/>
<rect x="257.77" y="83.56" width="7.83" height="7.44" fill="#00ff8f"/>
<rect x="265.30" y="83.56" width="7.83" height="7.44" fill="#00fb77"/>
<rect x="272.83" y="83.56" width="7.83" height="7.44" fill="#04f866"/>
<rect x="280.36" y="83.56" width="7.83" height="7.44" fill="#a4ff0d"/>
<rect x="287.89" y="83.56" width="7.83" height="7.44" fill="#00fb77"/>
<rect x="295.42" y="83.56" width="7.83" height="7.44" fill="#53fc40"/>
<rect x="302.95" y="83.56" width="7.83" height="7.44" fill="#04f866"/>
<rect x="310.47" y="83.56" width="15.36" height="7.44" fill="#53fc40"/>
<rect x="325.53" y="83.56" width="7.83" height="7.44" fill="#74fe2b"/>
<rect x="333.06" y="83.56" width="7.83" height="7.44" fill="#04f866"/>
<rect x="340.59" y="83.56" width="15.36" height="7.44" fill="#74fe2b"/>
<rect x="355.65" y="83.56" width="7.83" height="7.44" fill="#8dff1b"/>
<rect x="363.18" y="83.56" width="7.83" height="7.44" fill="#d4ff02"/>
<rect x="370.71" y="83.56" width="7.83" height="7.44" fill="#8dff1b"/>
<rect x="378.24" y="83.56" width="7.83" height="7.44" fill="#96ff16"/>
<rect x="385.77" y="83.56" width="7.83" height="7.44" fill="#8dff1b"/>
<rect x="393.30" y="83.56" width="7.83" height="7.44" fill="#e8ff00"/>
<rect x="400.82" y="83.56" width="7.83" height="7.44" fill="#ffa200"/>
<rect x="408.35" y="83.56" width="7.83" height="7.44" fill="#ff8800"/>
<rect x="415.88" y="83.56" width="7.83" height="7.44" fill="#ffb000"/>
<rect x="423.41" y="83.56" width="7.83" height="7.44" fill="#ffe700"/>
<rect x="430.94" y="83.56" width="7.83" height="7.44" fill="#ff9400"/>
<rect x="438.47" y="83.56" width="7.83" height="7.44" fill="#ffb000"/>
<rect x="446.00" y="83.56" width="6.40" height="7.44" fill="#ffbd00"/>
<rect x="78.60" y="90.70" width="6.30" height="7.44" fill="#ff8800"/>
<rect x="84.60" y="90.70" width="7.83" height="7.44" fill="#d4ff02"/>
<rect x="92.13" y="90.70" width="7.83" height="7.44" fill="#a4ff0d"/>
<rect x="99.66" y="90.70" width="15.36" height="7.44" fill="#00ff8a"/>
<rect x="114.72" y="90.70" width="7.83" height="7.44" fill="#00ffb8"/>
<rect x="122.25" y="90.70" width="7.83" height="7.44" fill="#00ffca"/>
<rect x="129.78" y="90.70" width="7.83" height="7.44" fill="#00ffef"/>
<rect x="137.30" y="90.70" width="7.83" height="7.44" fill="#00e6fb"/>
<rect x="144.83" y="90.70" width="7.83" height="7.44" fill="#00cbff"/>
<rect x="152.36" y="90.70" width="7.83" height="7.44" fill="#00e6fb"/>
<rect x="159.89" y="90.70" width="7.83" height="7.44" fill="#000080"/>
<rect x="167.42" y="90.70" width="7.83" height="7.44" fill="#00e6fb"/>
<rect x="174.95" y="90.70" width="7.83" height="7.44" fill="#00ffef"/>
<rect x="182.48" y="90.70" width="7.83" height="7.44" fill="#00ffe0"/>
<rect x="190.01" y="90.70" width="7.83" height="7.44" fill="#00ffd1"/>
<rect x="197.54" y="90.70" width="7.83" height="7.44" fill="#00ffbf"/>
<rect x="205.07" y="90.70" width="7.83" height="7.44" fill="#00ffad"/>
<rect x="212.60" y="90.70" width="15.36" height="7.44" fill="#00ff9e"/>
<rect x="227.65" y="90.70" width="30.42" height="7.44" fill="#00ffad"/>
<rect x="257.77" y="90.70" width="7.83" height="7.44" fill="#00ff9e"/>
<rect x="265.30" y="90.70" width="7.83" height="7.44" fill="#00fd83"/>
<rect x="272.83" y="90.70" width="7.83" height="7.44" fill="#00fb77"/>
<rect x="280.36" y="90.70" width="7.83" height="7.44" fill="#01f96e"/>
<rect x="287.89" y="90.70" width="7.83" height="7.44" fill="#00fd83"/>
<rect x="295.42" y="90.70" width="7.83" height="7.44" fill="#00fb77"/>
<rect x="302.95" y="90.70" width="53.00" height="7.44" fill="#00ff8f"/>
<rect x="355.65" y="90.70" width="7.83" height="7.44" fill="#01f96e"/>
<rect x="363.18" y="90.70" width="7.83" height="7.44" fill="#53fc40"/>
<rect x="370.71" y="90.70" width="7.83" height="7.44" fill="#00fb77"/>
<rect x="378.24" y="90.70" width="7.83" height="7.44" fill="#02f96b"/>
<rect x="385.77" y="90.70" width="7.83" height="7.44" fill="#22f957"/>
<rect x="393.30" y="90.70" width="7.83" height="7.44" fill="#8dff1b"/>
<rect x="400.82" y="90.70" width="7.83" height="7.44" fill="#fff600"/>
<rect x="408.35" y="90.70" width="7.83" height="7.44" fill="#ffd900"/>
<rect x="415.88" y="90.70" width="7.83" height="7.44" fill="#fff600"/>
<rect x="423.41" y="90.70" width="7.83" height="7.44" fill="#d4ff02"/>
<rect x="430.94" y="90.70" width="21.46" height="7.44" fill="#fff600"/>
<rect x="78.60" y="97.84" width="6.30" height="7.44" fill="#ff4100"/>
<rect x="84.60" y="97.84" width="7.83" height="7.44" fill="#ffd900"/>
<rect x="92.13" y="97.84" width="7.83" height="7.44" fill="#fff600"/>
<rect x="99.66" y="97.84" width="15.36" height="7.44" fill="#7fff23"/>
<rect x="114.72" y="97.84" width="7.83" height="7.44" fill="#02f96b"/>
<rect x="122.25" y="97.84" width="7.83" height="7.44" fill="#00fa73"/>
<rect x="129.78" y="97.84" width="7.83" height="7.44" fill="#00ffa7"/>
<rect x="137.30" y="97.84" width="7.83" height="7.44" fill="#00ffb8"/>
<rect x="144.83" y="97.84" width="7.83" height="7.44" fill="#00ffca"/>
<rect x="152.36" y="97.84" width="7.83" height="7.44" fill="#00ffad"/>
<rect x="159.89" y="97.84" width="7.83" height="7.44" fill="#00e6fb"/>
<rect x="167.42" y="97.84" width="7.83" height="7.44" fill="#000080"/>
<rect x="174.95" y="97.84" width="7.83" height="7.44" fill="#00cbff"/>
<rect x="182.48" y="97.84" width="7.83" height="7.44" fill="#00f4f6"/>
<rect x="190.01" y="97.84" width="7.83" height="7.44" fill="#00ffef"/>
<rect x="197.54" y="97.84" width="7.83" height="7.44" fill="#00ffe0"/>
<rect x="205.07" y="97.84" width="7.83" height="7.44" fill="#00ffd1"/>
<rect x="212.60" y="97.84" width="7.83" height="7.44" fill="#00ffbf"/>
<rect x="220.13" y="97.84" width="7.83" height="7.44" fill="#00ff9e"/>
<rect x="227.65" y="97.84" width="7.83" height="7.44" fill="#00fd83"/>
<rect x="235.18" y="97.84" width="7.83" height="7.44" fill="#60fd37"/>
<rect x="242.71" y="97.84" width="7.83" height="7.44" fill="#46fa48"/>
<rect x="250.24" y="97.84" width="15.36" height="7.44" fill="#00fd83"/>
<rect x="265.30" y="97.84" width="15.36" height="7.44" fill="#00fb77"/>
<rect x="280.36" y="97.84" width="7.83" height="7.44" fill="#01f96e"/>
<rect x="287.89" y="97.84" width="7.83" height="7.44" fill="#00fb77"/>
<rect x="295.42" y="97.84" width="7.83" height="7.44" fill="#01f96e"/>
<rect x="302.95" y="97.84" width="7.83" height="7.44" fill="#00fb77"/>
<rect x="310.47" y="97.84" width="7.83" height="7.44" fill="#60fd37"/>
<rect x="318.00" y="97.84" width="7.83" height="7.44" fill="#00fd83"/>
<rect x="325.53" y="97.84" width="15.36" height="7.44" fill="#00ff8f"/>
<rect x="340.59" y="97.84" width="7.83" height="7.44" fill="#00fd83"/>
<rect x="348.12" y="97.84" width="7.83" height="7.44" fill="#00fb77"/>
<rect x="355.65" y="97.84" width="7.83" height="7.44" fill="#a4ff0d"/>
<rect x="363.18" y="97.84" width="7.83" height="7.44" fill="#d4ff02"/>
<rect x="370.71" y="97.84" width="7.83" height="7.44" fill="#53fc40"/>
<rect x="378.24" y="97.84" width="7.83" height="7.44" fill="#60fd37"/>
<rect x="385.77" y="97.84" width="7.83" height="7.44" fill="#a4ff0d"/>
<rect x="393.30" y="97.84" width="7.83" height="7.44" fill="#bcff05"/>
<rect x="400.82" y="97.84" width="7.83" height="7.44" fill="#ffbd00"/>
<rect x="408.35" y="97.84" width="7.83" height="7.44" fill="#ffa200"/>
<rect x="415.88" y="97.84" width="7.83" height="7.44" fill="#ffcb00"/>
<rect x="423.41" y="97.84" width="7.83" height="7.44" fill="#fff600"/>
<rect x="430.94" y="97.84" width="7.83" height="7.44" fill="#ffd900"/>
<rect x="438.47" y="97.84" width="7.83" height="7.44" fill="#ffe700"/>
<rect x="446.00" y="97.84" width="6.40" height="7.44" fill="#fff600"/>
<rect x="78.60" y="104.98" width="6.30" height="7.44" fill="#ff8800"/>
<rect x="84.60" y="104.98" width="7.83" height="7.44" fill="#bcff05"/>
<rect x="92.13" y="104.98" width="7.83" height="7.44" fill="#8dff1b"/>
<rect x="99.66" y="104.98" width="15.36" height="7.44" fill="#02f96b"/>
<rect x="114.72" y="104.98" width="7.83" height="7.44" fill="#00fc7e"/>
<rect x="122.25" y="104.98" width="7.83" height="7.44" fill="#00ff8a"/>
<rect x="129.78" y="104.98" width="22.89" height="7.44" fill="#00ffb8"/>
<rect x="152.36" y="104.98" width="7.83" height="7.44" fill="#00ffad"/>
<rect x="159.89" y="104.98" width="7.83" height="7.44" fill="#00ffef"/>
<rect x="167.42" y="104.98" width="7.83" height="7.44" fill="#00cbff"/>
<rect x="174.95" y="104.98" width="7.83" height="7.44" fill="#000080"/>
<rect x="182.48" y="104.98" width="7.83" height="7.44" fill="#00bdff"/>
<rect x="190.01" y="104.98" width="7.83" height="7.44" fill="#00d9ff"/>
<rect x="197.54" y="104.98" width="7.83" height="7.44" fill="#00e6fb"/>
<rect x="205.07" y="104.98" width="7.83" height="7.44" fill="#00ffef"/>
<rect x="212.60" y="104.98" width="7.83" height="7.44" fill="#00ffd1"/>
<rect x="220.13" y="104.98" width="7.83" height="7.44" fill="#00ffad"/>
<rect x="227.65" y="104.98" width="7.83" height="7.44" fill="#00fd83"/>
<rect x="235.18" y="104.98" width="15.36" height="7.44" fill="#00fb77"/>
<rect x="250.24" y="104.98" width="15.36" height="7.44" fill="#00ff8f"/>
<rect x="265.30" y="104.98" width="15.36" height="7.44" fill="#00fb77"/>
<rect x="280.36" y="104.98" width="7.83" height="7.44" fill="#01f96e"/>
<rect x="287.89" y="104.98" width="7.83" height="7.44" fill="#00ff8f"/>
<rect x="295.42" y="104.98" width="7.83" height="7.44" fill="#01f96e"/>
<rect x="302.95" y="104.98" width="7.83" height="7.44" fill="#00fb77"/>
<rect x="310.47" y="104.98" width="7.83" height="7.44" fill="#00fd83"/>
<rect x="318.00" y="104.98" width="22.89" height="7.44" fill="#00ff9e"/>
<rect x="340.59" y="104.98" width="15.36" height="7.44" fill="#00ff8f"/>
<rect x="355.65" y="104.98" width="7.83" height="7.44" fill="#60fd37"/>
<rect x="363.18" y="104.98" width="7.83" height="7.44" fill="#74fe2b"/>
<rect x="370.71" y="104.98" width="7.83" height="7.44" fill="#53fc40"/>
<rect x="378.24" y="104.98" width="7.83" height="7.44" fill="#40fa4c"/>
<rect x="385.77" y="104.98" width="7.83" height="7.44" fill="#8dff1b"/>
<rect x="393.30" y="104.98" width="7.83" height="7.44" fill="#d4ff02"/>
<rect x="400.82" y="104.98" width="7.83" height="7.44" fill="#ffcb00"/>
<rect x="408.35" y="104.98" width="7.83" height="7.44" fill="#ffb000"/>
<rect x="415.88" y="104.98" width="7.83" height="7.44" fill="#ffd900"/>
<rect x="423.41" y="104.98" width="7.83" height="7.44" fill="#f8ff00"/>
<rect x="430.94" y="104.98" width="7.83" height="7.44" fill="#ffd900"/>
<rect x="438.47" y="104.98" width="13.93" height="7.44" fill="#fff600"/>
<rect x="78.60" y="112.11" width="6.30" height="7.44" fill="#ff2500"/>
<rect x="84.60" y="112.11" width="7.83" height="7.44" fill="#ffb000"/>
<rect x="92.13" y="112.11" width="7.83" height="7.44" fill="#ffbd00"/>
<rect x="99.66" y="112.11" width="15.36" height="7.44" fill="#c6ff04"/>
<rect x="114.72" y="112.11" width="7.83" height="7.44" fill="#05f863"/>
<rect x="122.25" y="112.11" width="7.83" height="7.44" fill="#02f96b"/>
<rect x="129.78" y="112.11" width="15.36" height="7.44" fill="#00ff98"/>
<rect x="144.83" y="112.11" width="7.83" height="7.44" fill="#00ff8a"/>
<rect x="152.36" y="112.11" width="7.83" height="7.44" fill="#00ff8f"/>
<rect x="159.89" y="112.11" width="7.83" height="7.44" fill="#00ffe0"/>
<rect x="167.42" y="112.11" width="7.83" height="7.44" fill="#00f4f6"/>
<rect x="174.95" y="112.11" width="7.83" height="7.44" fill="#00bdff"/>
<rect x="182.48" y="112.11" width="7.83" height="7.44" fill="#000080"/>
<rect x="190.01" y="112.11" width="7.83" height="7.44" fill="#00afff"/>
<rect x="197.54" y="112.11" width="7.83" height="7.44" fill="#00cbff"/>
<rect x="205.07" y="112.11" width="7.83" height="7.44" fill="#00e6fb"/>
<rect x="212.60" y="112.11" width="7.83" height="7.44" fill="#00ffef"/>
<rect x="220.13" y="112.11" width="7.83" height="7.44" fill="#00ffad"/>
<rect x="227.65" y="112.11" width="7.83" height="7.44" fill="#00ff8f"/>
<rect x="235.18" y="112.11" width="15.36" height="7.44" fill="#00fd83"/>
<rect x="250.24" y="112.11" width="15.36" height="7.44" fill="#00ff9e"/>
<rect x="265.30" y="112.11" width="15.36" height="7.44" fill="#00fb77"/>
<rect x="280.36" y="112.11" width="7.83" height="7.44" fill="#01f96e"/>
<rect x="287.89" y="112.11" width="7.83" height="7.44" fill="#00fd83"/>
<rect x="295.42" y="112.11" width="7.83" height="7.44" fill="#01f96e"/>
<rect x="302.95" y="112.11" width="7.83" height="7.44" fill="#4dfb44"/>
<rect x="310.47" y="112.11" width="7.83" height="7.44" fill="#00fd83"/>
<rect x="318.00" y="112.11" width="22.89" height="7.44" fill="#00ff9e"/>
<rect x="340.59" y="112.11" width="15.36" height="7.44" fill="#00ff8f"/>
<rect x="355.65" y="112.11" width="7.83" height="7.44" fill="#60fd37"/>
<rect x="363.18" y="112.11" width="7.83" height="7.44" fill="#74fe2b"/>
<rect x="370.71" y="112.11" width="7.83" height="7.44" fill="#53fc40"/>
<rect x="378.24" y="112.11" width="7.83" height="7.44" fill="#05f863"/>
<rect x="385.77" y="112.11" width="7.83" height="7.44" fill="#53fc40"/>
<rect x="393.30" y="112.11" width="7.83" height="7.44" fill="#bcff05"/>
<rect x="400.82" y="112.11" width="7.83" height="7.44" fill="#ffe700"/>
<rect x="408.35" y="112.11" width="7.83" height="7.44" fill="#ffcb00"/>
<rect x="415.88" y="112.11" width="7.83" height="7.44" fill="#fff600"/>
<rect x="423.41" y="112.11" width="7.83" height="7.44" fill="#e8ff00"/>
<rect x="430.94" y="112.11" width="7.83" height="7.44" fill="#ffe700"/>
<rect x="438.47" y="112.11" width="13.93" height="7.44" fill="#fff600"/>
<rect x="78.60" y="119.25" width="6.30" height="7.44" fill="#ff2500"/>
<rect x="84.60" y="119.25" width="7.83" height="7.44" fill="#ffd900"/>
<rect x="92.13" y="119.25" width="7.83" height="7.44" fill="#ffe700"/>
<rect x="99.66" y="119.25" width="15.36" height="7.44" fill="#7fff23"/>
<rect x="114.72" y="119.25" width="7.83" height="7.44" fill="#02f96b"/>
<rect x="122.25" y="119.25" width="7.83" height="7.44" fill="#00fa73"/>
<rect x="129.78" y="119.25" width="15.36" height="7.44" fill="#00ff98"/>
<rect x="144.83" y="119.25" width="7.83" height="7.44" fill="#00ff8a"/>
<rect x="152.36" y="119.25" width="7.83" height="7.44" fill="#00ff8f"/>
<rect x="159.89" y="119.25" width="7.83" height="7.44" fill="#00ffd1"/>
<rect x="167.42" y="119.25" width="7.83" height="7.44" fill="#00ffef"/>
<rect x="174.95" y="119.25" width="7.83" height="7.44" fill="#00d9ff"/>
<rect x="182.48" y="119.25" width="7.83" height="7.44" fill="#00afff"/>
<rect x="190.01" y="119.25" width="7.83" height="7.44" fill="#000080"/>
<rect x="197.54" y="119.25" width="7.83" height="7.44" fill="#0093ff"/>
<rect x="205.07" y="119.25" width="7.83" height="7.44" fill="#00bdff"/>
<rect x="212.60" y="119.25" width="7.83" height="7.44" fill="#00d9ff"/>
<rect x="220.13" y="119.25" width="7.83" height="7.44" fill="#00ffd1"/>
<rect x="227.65" y="119.25" width="7.83" height="7.44" fill="#00ffad"/>
<rect x="235.18" y="119.25" width="15.36" height="7.44" fill="#00fd83"/>
<rect x="250.24" y="119.25" width="15.36" height="7.44" fill="#00ffad"/>
<rect x="265.30" y="119.25" width="7.83" height="7.44" fill="#00fd83"/>
<rect x="272.83" y="119.25" width="7.83" height="7.44" fill="#00fb77"/>
<rect x="280.36" y="119.25" width="7.83" height="7.44" fill="#01f96e"/>
<rect x="287.89" y="119.25" width="7.83" height="7.44" fill="#00fd83"/>
<rect x="295.42" y="119.25" width="7.83" height="7.44" fill="#01f96e"/>
<rect x="302.95" y="119.25" width="7.83" height="7.44" fill="#00fb77"/>
<rect x="310.47" y="119.25" width="7.83" height="7.44" fill="#00fd83"/>
<rect x="318.00" y="119.25" width="22.89" height="7.44" fill="#00ff9e"/>
<rect x="340.59" y="119.25" width="15.36" height="7.44" fill="#00ff8f"/>
<rect x="355.65" y="119.25" width="7.83" height="7.44" fill="#60fd37"/>
<rect x="363.18" y="119.25" width="7.83" height="7.44" fill="#74fe2b"/>
<rect x="370.71" y="119.25" width="7.83" height="7.44" fill="#53fc40"/>
<rect x="378.24" y="119.25" width="7.83" height="7.44" fill="#02f96b"/>
<rect x="385.77" y="119.25" width="7.83" height="7.44" fill="#22f957"/>
<rect x="393.30" y="119.25" width="7.83" height="7.44" fill="#a4ff0d"/>
<rect x="400.82" y="119.25" width="7.83" height="7.44" fill="#ffe700"/>
<rect x="408.35" y="119.25" width="7.83" height="7.44" fill="#ffd900"/>
<rect x="415.88" y="119.25" width="7.83" height="7.44" fill="#fff600"/>
<rect x="423.41" y="119.25" width="7.83" height="7.44" fill="#e8ff00"/>
<rect x="430.94" y="119.25" width="7.83" height="7.44" fill="#ffe700"/>
<rect x="438.47" y="119.25" width="13.93" height="7.44" fill="#fff600"/>
<rect x="78.60" y="126.39" width="6.30" height="7.44" fill="#ff4100"/>
<rect x="84.60" y="126.39" width="7.83" height="7.44" fill="#ffd900"/>
<rect x="92.13" y="126.39" width="7.83" height="7.44" fill="#ffe700"/>
<rect x="99.66" y="126.39" width="15.36" height="7.44" fill="#7fff23"/>
<rect x="114.72" y="126.39" width="7.83" height="7.44" fill="#02f96b"/>
<rect x="122.25" y="126.39" width="7.83" height="7.44" fill="#00fa73"/>
<rect x="129.78" y="126.39" width="15.36" height="7.44" fill="#00ff8a"/>
<rect x="144.83" y="126.39" width="7.83" height="7.44" fill="#00fc7e"/>
<rect x="152.36" y="126.39" width="7.83" height="7.44" fill="#00ff8f"/>
<rect x="159.89" y="126.39" width="7.83" height="7.44" fill="#00ffbf"/>
<rect x="167.42" y="126.39" width="7.83" height="7.44" fill="#00ffe0"/>
<rect x="174.95" y="126.39" width="7.83" height="7.44" fill="#00e6fb"/>
<rect x="182.48" y="126.39" width="7.83" height="7.44" fill="#00cbff"/>
<rect x="190.01" y="126.39" width="7.83" height="7.44" fill="#0093ff"/>
<rect x="197.54" y="126.39" width="7.83" height="7.44" fill="#000080"/>
<rect x="205.07" y="126.39" width="7.83" height="7.44" fill="#00afff"/>
<rect x="212.60" y="126.39" width="7.83" height="7.44" fill="#00cbff"/>
<rect x="220.13" y="126.39" width="7.83" height="7.44" fill="#00ffe0"/>
<rect x="227.65" y="126.39" width="7.83" height="7.44" fill="#00ffbf"/>
<rect x="235.18" y="126.39" width="15.36" height="7.44" fill="#00fd83"/>
<rect x="250.24" y="126.39" width="15.36" height="7.44" fill="#00ff9e"/>
<rect x="265.30" y="126.39" width="7.83" height="7.44" fill="#00fd83"/>
<rect x="272.83" y="126.39" width="7.83" height="7.44" fill="#00fb77"/>
<rect x="280.36" y="126.39" width="7.83" height="7.44" fill="#01f96e"/>
<rect x="287.89" y="126.39" width="7.83" height="7.44" fill="#00fd83"/>
<rect x="295.42" y="126.39" width="7.83" height="7.44" fill="#01f96e"/>
<rect x="302.95" y="126.39" width="7.83" height="7.44" fill="#00fb77"/>
<rect x="310.47" y="126.39" width="7.83" height="7.44" fill="#00fd83"/>
<rect x="318.00" y="126.39" width="7.83" height="7.44" fill="#00ff8f"/>
<rect x="325.53" y="126.39" width="15.36" height="7.44" fill="#00ff9e"/>
<rect x="340.59" y="126.39" width="7.83" height="7.44" fill="#00ff8f"/>
<rect x="348.12" y="126.39" width="7.83" height="7.44" fill="#00fd83"/>
<rect x="355.65" y="126.39" width="7.83" height="7.44" fill="#8dff1b"/>
<rect x="363.18" y="126.39" width="7.83" height="7.44" fill="#bcff05"/>
<rect x="370.71" y="126.39" width="7.83" height="7.44" fill="#53fc40"/>
<rect x="378.24" y="126.39" width="7.83" height="7.44" fill="#02f96b"/>
<rect x="385.77" y="126.39" width="7.83" height="7.44" fill="#22f957"/>
<rect x="393.30" y="126.39" width="7.83" height="7.44" fill="#a4ff0d"/>
<rect x="400.82" y="126.39" width="7.83" height="7.44" fill="#ffe700"/>
<rect x="408.35" y="126.39" width="7.83" height="7.44" fill="#ffd900"/>
<rect x="415.88" y="126.39" width="7.83" height="7.44" fill="#fff600"/>
<rect x="423.41" y="126.39" width="7.83" height="7.44" fill="#e8ff00"/>
<rect x="430.94" y="126.39" width="7.83" height="7.44" fill="#ffd900"/>
<rect x="438.47" y="126.39" width="13.93" height="7.44" fill="#fff600"/>
<rect x="78.60" y="133.53" width="6.30" height="7.44" fill="#ff7200"/>
<rect x="84.60" y="133.53" width="7.83" height="7.44" fill="#f8ff00"/>
<rect x="92.13" y="133.53" width="7.83" height="7.44" fill="#e8ff00"/>
<rect x="99.66" y="133.53" width="7.83" height="7.44" fill="#40fa4c"/>
<rect x="107.19" y="133.53" width="7.83" height="7.44" fill="#05f863"/>
<rect x="114.72" y="133.53" width="15.36" height="7.44" fill="#00fc7e"/>
<rect x="129.78" y="133.53" width="7.83" height="7.44" fill="#00ff98"/>
<rect x="137.30" y="133.53" width="7.83" height="7.44" fill="#00ff8a"/>
<rect x="144.83" y="133.53" width="7.83" height="7.44" fill="#00fa73"/>
<rect x="152.36" y="133.53" width="7.83" height="7.44" fill="#00ff8f"/>
<rect x="159.89" y="133.53" width="7.83" height="7.44" fill="#00ffad"/>
<rect x="167.42" y="133.53" width="7.83" height="7.44" fill="#00ffd1"/>
<rect x="174.95" y="133.53" width="7.83" height="7.44" fill="#00ffef"/>
<rect x="182.48" y="133.53" width="7.83" height="7.44" fill="#00e6fb"/>
<rect x="190.01" y="133.53" width="7.83" height="7.44" fill="#00bdff"/>
<rect x="197.54" y="133.53" width="7.83" height="7.44" fill="#00afff"/>
<rect x="205.07" y="133.53" width="7.83" height="7.44" fill="#000080"/>
<rect x="212.60" y="133.53" width="7.83" height="7.44" fill="#00bdff"/>
<rect x="220.13" y="133.53" width="7.83" height="7.44" fill="#00ffef"/>
<rect x="227.65" y="133.53" width="7.83" height="7.44" fill="#00ffe0"/>
<rect x="235.18" y="133.53" width="7.83" height="7.44" fill="#00ff8f"/>
<rect x="242.71" y="133.53" width="7.83" height="7.44" fill="#00ff9e"/>
<rect x="250.24" y="133.53" width="15.36" height="7.44" fill="#00ffbf"/>
<rect x="265.30" y="133.53" width="7.83" height="7.44" fill="#00ff9e"/>
<rect x="272.83" y="133.53" width="7.83" height="7.44" fill="#00fd83"/>
<rect x="280.36" y="133.53" width="7.83" height="7.44" fill="#00fb77"/>
<rect x="287.89" y="133.53" width="7.83" height="7.44" fill="#00ff8f"/>
<rect x="295.42" y="133.53" width="7.83" height="7.44" fill="#00fb77"/>
<rect x="302.95" y="133.53" width="7.83" height="7.44" fill="#00ff8f"/>
<rect x="310.47" y="133.53" width="7.83" height="7.44" fill="#00ff9e"/>
<rect x="318.00" y="133.53" width="7.83" height="7.44" fill="#00ffad"/>
<rect x="325.53" y="133.53" width="15.36" height="7.44" fill="#00ffbf"/>
<rect x="340.59" y="133.53" width="7.83" height="7.44" fill="#00ffad"/>
<rect x="348.12" y="133.53" width="7.83" height="7.44" fill="#00ff9e"/>
<rect x="355.65" y="133.53" width="7.83" height="7.44" fill="#01f96e"/>
<rect x="363.18" y="133.53" width="7.83" height="7.44" fill="#22f957"/>
<rect x="370.71" y="133.53" width="7.83" height="7.44" fill="#00fb77"/>
<rect x="378.24" y="133.53" width="7.83" height="7.44" fill="#00ff8a"/>
<rect x="385.77" y="133.53" width="7.83" height="7.44" fill="#01f96e"/>
<rect x="393.30" y="133.53" width="7.83" height="7.44" fill="#53fc40"/>
<rect x="400.82" y="133.53" width="7.83" height="7.44" fill="#e8ff00"/>
<rect x="408.35" y="133.53" width="7.83" height="7.44" fill="#f8ff00"/>
<rect x="415.88" y="133.53" width="7.83" height="7.44" fill="#d4ff02"/>
<rect x="423.41" y="133.53" width="7.83" height="7.44" fill="#8dff1b"/>
<rect x="430.94" y="133.53" width="7.83" height="7.44" fill="#d4ff02"/>
<rect x="438.47" y="133.53" width="13.93" height="7.44" fill="#bcff05"/>
<rect x="78.60" y="140.67" width="6.30" height="7.44" fill="#ff2500"/>
<rect x="84.60" y="140.67" width="7.83" height="7.44" fill="#ffb000"/>
<rect x="92.13" y="140.67" width="7.83" height="7.44" fill="#ffcb00"/>
<rect x="99.66" y="140.67" width="15.36" height="7.44" fill="#c6ff04"/>
<rect x="114.72" y="140.67" width="7.83" height="7.44" fill="#60fd37"/>
<rect x="122.25" y="140.67" width="7.83" height="7.44" fill="#40fa4c"/>
<rect x="129.78" y="140.67" width="15.36" height="7.44" fill="#00fc7e"/>
<rect x="144.83" y="140.67" width="7.83" height="7.44" fill="#02f96b"/>
<rect x="152.36" y="140.67" width="7.83" height="7.44" fill="#00fd83"/>
<rect x="159.89" y="140.67" width="7.83" height="7.44" fill="#00ff9e"/>
<rect x="167.42" y="140.67" width="7.83" height="7.44" fill="#00ffbf"/>
<rect x="174.95" y="140.67" width="7.83" height="7.44" fill="#00ffd1"/>
<rect x="182.48" y="140.67" width="7.83" height="7.44" fill="#00ffef"/>
<rect x="190.01" y="140.67" width="7.83" height="7.44" fill="#00d9ff"/>
<rect x="197.54" y="140.67" width="7.83" height="7.44" fill="#00cbff"/>
<rect x="205.07" y="140.67" width="7.83" height="7.44" fill="#00bdff"/>
<rect x="212.60" y="140.67" width="7.83" height="7.44" fill="#000080"/>
<rect x="220.13" y="140.67" width="7.83" height="7.44" fill="#00d9ff"/>
<rect x="227.65" y="140.67" width="7.83" height="7.44" fill="#00e6fb"/>
<rect x="235.18" y="140.67" width="7.83" height="7.44" fill="#00ff9e"/>
<rect x="242.71" y="140.67" width="7.83" height="7.44" fill="#00ff8f"/>
<rect x="250.24" y="140.67" width="15.36" height="7.44" fill="#00ff9e"/>
<rect x="265.30" y="140.67" width="7.83" height="7.44" fill="#00ff8f"/>
<rect x="272.83" y="140.67" width="7.83" height="7.44" fill="#00fd83"/>
<rect x="280.36" y="140.67" width="7.83" height="7.44" fill="#00fb77"/>
<rect x="287.89" y="140.67" width="7.83" height="7.44" fill="#00ffad"/>
<rect x="295.42" y="140.67" width="7.83" height="7.44" fill="#00fb77"/>
<rect x="302.95" y="140.67" width="7.83" height="7.44" fill="#31f952"/>
<rect x="310.47" y="140.67" width="7.83" height="7.44" fill="#05f863"/>
<rect x="318.00" y="140.67" width="7.83" height="7.44" fill="#00fd83"/>
<rect x="325.53" y="140.67" width="15.36" height="7.44" fill="#00ff8f"/>
<rect x="340.59" y="140.67" width="7.83" height="7.44" fill="#00fd83"/>
<rect x="348.12" y="140.67" width="7.83" height="7.44" fill="#00fb77"/>
<rect x="355.65" y="140.67" width="7.83" height="7.44" fill="#8dff1b"/>
<rect x="363.18" y="140.67" width="7.83" height="7.44" fill="#bcff05"/>
<rect x="370.71" y="140.67" width="7.83" height="7.44" fill="#53fc40"/>
<rect x="378.24" y="140.67" width="7.83" height="7.44" fill="#02f96b"/>
<rect x="385.77" y="140.67" width="7.83" height="7.44" fill="#74fe2b"/>
<rect x="393.30" y="140.67" width="7.83" height="7.44" fill="#a4ff0d"/>
<rect x="400.82" y="140.67" width="7.83" height="7.44" fill="#ffe700"/>
<rect x="408.35" y="140.67" width="7.83" height="7.44" fill="#ffd900"/>
<rect x="415.88" y="140.67" width="7.83" height="7.44" fill="#f8ff00"/>
<rect x="423.41" y="140.67" width="7.83" height="7.44" fill="#bcff05"/>
<rect x="430.94" y="140.67" width="7.83" height="7.44" fill="#fff600"/>
<rect x="438.47" y="140.67" width="13.93" height="7.44" fill="#f8ff00"/>
<rect x="78.60" y="147.81" width="6.30" height="7.44" fill="#ff8800"/>
<rect x="84.60" y="147.81" width="7.83" height="7.44" fill="#fff600"/>
<rect x="92.13" y="147.81" width="7.83" height="7.44" fill="#e8ff00"/>
<rect x="99.66" y="147.81" width="15.36" height="7.44" fill="#40fa4c"/>
<rect x="114.72" y="147.81" width="7.83" height="7.44" fill="#02f96b"/>
<rect x="122.25" y="147.81" width="7.83" height="7.44" fill="#00fa73"/>
<rect x="129.78" y="147.81" width="15.36" height="7.44" fill="#00fc7e"/>
<rect x="144.83" y="147.81" width="7.83" height="7.44" fill="#00fa73"/>
<rect x="152.36" y="147.81" width="7.83" height="7.44" fill="#00ff8f"/>
<rect x="159.89" y="147.81" width="15.36" height="7.44" fill="#00ff9e"/>
<rect x="174.95" y="147.81" width="15.36" height="7.44" fill="#00ffad"/>
<rect x="190.01" y="147.81" width="7.83" height="7.44" fill="#00ffd1"/>
<rect x="197.54" y="147.81" width="7.83" height="7.44" fill="#00ffe0"/>
<rect x="205.07" y="147.81" width="7.83" height="7.44" fill="#00ffef"/>
<rect x="212.60" y="147.81" width="7.83" height="7.44" fill="#00d9ff"/>
<rect x="220.13" y="147.81" width="7.83" height="7.44" fill="#000080"/>
<rect x="227.65" y="147.81" width="7.83" height="7.44" fill="#0093ff"/>
<rect x="235.18" y="147.81" width="7.83" height="7.44" fill="#00ffe0"/>
<rect x="242.71" y="147.81" width="22.89" height="7.44" fill="#00ffad"/>
<rect x="265.30" y="147.81" width="7.83" height="7.44" fill="#00ff9e"/>
<rect x="272.83" y="147.81" width="7.83" height="7.44" fill="#00ff8f"/>
<rect x="280.36" y="147.81" width="7.83" height="7.44" fill="#00fd83"/>
<rect x="287.89" y="147.81" width="7.83" height="7.44" fill="#00ffd1"/>
<rect x="295.42" y="147.81" width="7.83" height="7.44" fill="#00fd83"/>
<rect x="302.95" y="147.81" width="7.83" height="7.44" fill="#00fb77"/>
<rect x="310.47" y="147.81" width="7.83" height="7.44" fill="#00fd83"/>
<rect x="318.00" y="147.81" width="7.83" height="7.44" fill="#00ff8f"/>
<rect x="325.53" y="147.81" width="15.36" height="7.44" fill="#00ff9e"/>
<rect x="340.59" y="147.81" width="7.83" height="7.44" fill="#00ff8f"/>
<rect x="348.12" y="147.81" width="7.83" height="7.44" fill="#00fd83"/>
<rect x="355.65" y="147.81" width="7.83" height="7.44" fill="#53fc40"/>
<rect x="363.18" y="147.81" width="7.83" height="7.44" fill="#8dff1b"/>
<rect x="370.71" y="147.81" width="7.83" height="7.44" fill="#22f957"/>
<rect x="378.24" y="147.81" width="7.83" height="7.44" fill="#02f96b"/>
<rect x="385.77" y="147.81" width="7.83" height="7.44" fill="#53fc40"/>
<rect x="393.30" y="147.81" width="7.83" height="7.44" fill="#8dff1b"/>
<rect x="400.82" y="147.81" width="7.83" height="7.44" fill="#fff600"/>
<rect x="408.35" y="147.81" width="7.83" height="7.44" fill="#ffe700"/>
<rect x="415.88" y="147.81" width="7.83" height="7.44" fill="#e8ff00"/>
<rect x="423.41" y="147.81" width="7.83" height="7.44" fill="#a4ff0d"/>
<rect x="430.94" y="147.81" width="7.83" height="7.44" fill="#f8ff00"/>
<rect x="438.47" y="147.81" width="13.93" height="7.44" fill="#e8ff00"/>
<rect x="78.60" y="154.95" width="6.30" height="7.44" fill="#ff2500"/>
<rect x="84.60" y="154.95" width="7.83" height="7.44" fill="#ffa200"/>
<rect x="92.13" y="154.95" width="7.83" height="7.44" fill="#ffe700"/>
<rect x="99.66" y="154.95" width="15.36" height="7.44" fill="#60fd37"/>
<rect x="114.72" y="154.95" width="7.83" height="7.44" fill="#40fa4c"/>
<rect x="122.25" y="154.95" width="15.36" height="7.44" fill="#60fd37"/>
<rect x="137.30" y="154.95" width="15.36" height="7.44" fill="#02f96b"/>
<rect x="152.36" y="154.95" width="7.83" height="7.44" fill="#00ff9e"/>
<rect x="159.89" y="154.95" width="7.83" height="7.44" fill="#00ffad"/>
<rect x="167.42" y="154.95" width="15.36" height="7.44" fill="#00fd83"/>
<rect x="182.48" y="154.95" width="7.83" height="7.44" fill="#00ff8f"/>
<rect x="190.01" y="154.95" width="7.83" height="7.44" fill="#00ffad"/>
<rect x="197.54" y="154.95" width="7.83" height="7.44" fill="#00ffbf"/>
<rect x="205.07" y="154.95" width="7.83" height="7.44" fill="#00ffe0"/>
<rect x="212.60" y="154.95" width="7.83" height="7.44" fill="#00e6fb"/>
<rect x="220.13" y="154.95" width="7.83" height="7.44" fill="#0093ff"/>
<rect x="227.65" y="154.95" width="7.83" height="7.44" fill="#000080"/>
<rect x="235.18" y="154.95" width="7.83" height="7.44" fill="#00cbff"/>
<rect x="242.71" y="154.95" width="7.83" height="7.44" fill="#00ffef"/>
<rect x="250.24" y="154.95" width="7.83" height="7.44" fill="#00ffd1"/>
<rect x="257.77" y="154.95" width="7.83" height="7.44" fill="#00ffe0"/>
<rect x="265.30" y="154.95" width="7.83" height="7.44" fill="#00ffad"/>
<rect x="272.83" y="154.95" width="7.83" height="7.44" fill="#00ff9e"/>
<rect x="280.36" y="154.95" width="7.83" height="7.44" fill="#00ff8f"/>
<rect x="287.89" y="154.95" width="7.83" height="7.44" fill="#00ff9e"/>
<rect x="295.42" y="154.95" width="7.83" height="7.44" fill="#00ff8f"/>
<rect x="302.95" y="154.95" width="22.89" height="7.44" fill="#00fd83"/>
<rect x="325.53" y="154.95" width="30.42" height="7.44" fill="#00fb77"/>
<rect x="355.65" y="154.95" width="7.83" height="7.44" fill="#22f957"/>
<rect x="363.18" y="154.95" width="7.83" height="7.44" fill="#8dff1b"/>
<rect x="370.71" y="154.95" width="7.83" height="7.44" fill="#01f96e"/>
<rect x="378.24" y="154.95" width="7.83" height="7.44" fill="#02f96b"/>
<rect x="385.77" y="154.95" width="7.83" height="7.44" fill="#22f957"/>
<rect x="393.30" y="154.95" width="7.83" height="7.44" fill="#7fff23"/>
<rect x="400.82" y="154.95" width="15.36" height="7.44" fill="#e8ff00"/>
<rect x="415.88" y="154.95" width="7.83" height="7.44" fill="#bcff05"/>
<rect x="423.41" y="154.95" width="7.83" height="7.44" fill="#92ff18"/>
<rect x="430.94" y="154.95" width="15.36" height="7.44" fill="#e8ff00"/>
<rect x="446.00" y="154.95" width="6.40" height="7.44" fill="#d4ff02"/>
<rect x="78.60" y="162.09" width="6.30" height="7.44" fill="#ff2500"/>
<rect x="84.60" y="162.09" width="7.83" height="7.44" fill="#ffa200"/>
<rect x="92.13" y="162.09" width="7.83" height="7.44" fill="#ffe700"/>
<rect x="99.66" y="162.09" width="7.83" height="7.44" fill="#96ff16"/>
<rect x="107.19" y="162.09" width="7.83" height="7.44" fill="#7fff23"/>
<rect x="114.72" y="162.09" width="7.83" height="7.44" fill="#40fa4c"/>
<rect x="122.25" y="162.09" width="7.83" height="7.44" fill="#60fd37"/>
<rect x="129.78" y="162.09" width="7.83" height="7.44" fill="#40fa4c"/>
<rect x="137.30" y="162.09" width="15.36" height="7.44" fill="#02f96b"/>
<rect x="152.36" y="162.09" width="7.83" height="7.44" fill="#00ff9e"/>
<rect x="159.89" y="162.09" width="7.83" height="7.44" fill="#00ffad"/>
<rect x="167.42" y="162.09" width="7.83" height="7.44" fill="#60fd37"/>
<rect x="174.95" y="162.09" width="7.83" height="7.44" fill="#00fb77"/>
<rect x="182.48" y="162.09" width="22.89" height="7.44" fill="#00fd83"/>
<rect x="205.07" y="162.09" width="7.83" height="7.44" fill="#00ff8f"/>
<rect x="212.60" y="162.09" width="7.83" height="7.44" fill="#00ff9e"/>
<rect x="220.13" y="162.09" width="7.83" height="7.44" fill="#00ffe0"/>
<rect x="227.65" y="162.09" width="7.83" height="7.44" fill="#00cbff"/>
<rect x="235.18" y="162.09" width="7.83" height="7.44" fill="#000080"/>
<rect x="242.71" y="162.09" width="7.83" height="7.44" fill="#00cbff"/>
<rect x="250.24" y="162.09" width="15.36" height="7.44" fill="#00ffe0"/>
<rect x="265.30" y="162.09" width="7.83" height="7.44" fill="#00ffbf"/>
<rect x="272.83" y="162.09" width="7.83" height="7.44" fill="#00ffad"/>
<rect x="280.36" y="162.09" width="7.83" height="7.44" fill="#00ff8f"/>
<rect x="287.89" y="162.09" width="7.83" height="7.44" fill="#00ff9e"/>
<rect x="295.42" y="162.09" width="7.83" height="7.44" fill="#00ff8f"/>
<rect x="302.95" y="162.09" width="22.89" height="7.44" fill="#00fb77"/>
<rect x="325.53" y="162.09" width="7.83" height="7.44" fill="#53fc40"/>
<rect x="333.06" y="162.09" width="7.83" height="7.44" fill="#22f957"/>
<rect x="340.59" y="162.09" width="15.36" height="7.44" fill="#01f96e"/>
<rect x="355.65" y="162.09" width="7.83" height="7.44" fill="#8dff1b"/>
<rect x="363.18" y="162.09" width="7.83" height="7.44" fill="#a4ff0d"/>
<rect x="370.71" y="162.09" width="7.83" height="7.44" fill="#01f96e"/>
<rect x="378.24" y="162.09" width="7.83" height="7.44" fill="#02f96b"/>
<rect x="385.77" y="162.09" width="7.83" height="7.44" fill="#22f957"/>
<rect x="393.30" y="162.09" width="7.83" height="7.44" fill="#adff08"/>
<rect x="400.82" y="162.09" width="15.36" height="7.44" fill="#ffd900"/>
<rect x="415.88" y="162.09" width="7.83" height="7.44" fill="#e8ff00"/>
<rect x="423.41" y="162.09" width="7.83" height="7.44" fill="#a9ff0a"/>
<rect x="430.94" y="162.09" width="15.36" height="7.44" fill="#ffd900"/>
<rect x="446.00" y="162.09" width="6.40" height="7.44" fill="#f8ff00"/>
<rect x="78.60" y="169.23" width="6.30" height="7.44" fill="#ff8800"/>
<rect x="84.60" y="169.23" width="7.83" height="7.44" fill="#bcff05"/>
<rect x="92.13" y="169.23" width="7.83" height="7.44" fill="#8dff1b"/>
<rect x="99.66" y="169.23" width="15.36" height="7.44" fill="#02f96b"/>
<rect x="114.72" y="169.23" width="15.36" height="7.44" fill="#00fc7e"/>
<rect x="129.78" y="169.23" width="22.89" height="7.44" fill="#00ff8a"/>
<rect x="152.36" y="169.23" width="7.83" height="7.44" fill="#00ff9e"/>
<rect x="159.89" y="169.23" width="7.83" height="7.44" fill="#00ffad"/>
<rect x="167.42" y="169.23" width="7.83" height="7.44" fill="#46fa48"/>
<rect x="174.95" y="169.23" width="7.83" height="7.44" fill="#00fb77"/>
<rect x="182.48" y="169.23" width="22.89" height="7.44" fill="#00fd83"/>
<rect x="205.07" y="169.23" width="7.83" height="7.44" fill="#00ff9e"/>
<rect x="212.60" y="169.23" width="7.83" height="7.44" fill="#00ff8f"/>
<rect x="220.13" y="169.23" width="7.83" height="7.44" fill="#00ffad"/>
<rect x="227.65" y="169.23" width="7.83" height="7.44" fill="#00ffef"/>
<rect x="235.18" y="169.23" width="7.83" height="7.44" fill="#00cbff"/>
<rect x="242.71" y="169.23" width="7.83" height="7.44" fill="#000080"/>
<rect x="250.24" y="169.23" width="7.83" height="7.44" fill="#0093ff"/>
<rect x="257.77" y="169.23" width="7.83" height="7.44" fill="#00e6fb"/>
<rect x="265.30" y="169.23" width="7.83" height="7.44" fill="#00ffef"/>
<rect x="272.83" y="169.23" width="7.83" height="7.44" fill="#00ffd1"/>
<rect x="280.36" y="169.23" width="15.36" height="7.44" fill="#00ff9e"/>
<rect x="295.42" y="169.23" width="22.89" height="7.44" fill="#00ff8f"/>
<rect x="318.00" y="169.23" width="45.47" height="7.44" fill="#00fd83"/>
<rect x="363.18" y="169.23" width="7.83" height="7.44" fill="#00fb77"/>
<rect x="370.71" y="169.23" width="7.83" height="7.44" fill="#00fd83"/>
<rect x="378.24" y="169.23" width="7.83" height="7.44" fill="#00fc7e"/>
<rect x="385.77" y="169.23" width="7.83" height="7.44" fill="#01f96e"/>
<rect x="393.30" y="169.23" width="7.83" height="7.44" fill="#60fd37"/>
<rect x="400.82" y="169.23" width="7.83" height="7.44" fill="#e8ff00"/>
<rect x="408.35" y="169.23" width="7.83" height="7.44" fill="#fff600"/>
<rect x="415.88" y="169.23" width="7.83" height="7.44" fill="#d4ff02"/>
<rect x="423.41" y="169.23" width="7.83" height="7.44" fill="#92ff18"/>
<rect x="430.94" y="169.23" width="7.83" height="7.44" fill="#f8ff00"/>
<rect x="438.47" y="169.23" width="7.83" height="7.44" fill="#e8ff00"/>
<rect x="446.00" y="169.23" width="6.40" height="7.44" fill="#d4ff02"/>
<rect x="78.60" y="176.37" width="6.30" height="7.44" fill="#ff8800"/>
<rect x="84.60" y="176.37" width="7.83" height="7.44" fill="#bcff05"/>
<rect x="92.13" y="176.37" width="7.83" height="7.44" fill="#8dff1b"/>
<rect x="99.66" y="176.37" width="15.36" height="7.44" fill="#02f96b"/>
<rect x="114.72" y="176.37" width="7.83" height="7.44" fill="#00fc7e"/>
<rect x="122.25" y="176.37" width="7.83" height="7.44" fill="#00ff8a"/>
<rect x="129.78" y="176.37" width="15.36" height="7.44" fill="#00ff98"/>
<rect x="144.83" y="176.37" width="7.83" height="7.44" fill="#00ff8a"/>
<rect x="152.36" y="176.37" width="7.83" height="7.44" fill="#00ff9e"/>
<rect x="159.89" y="176.37" width="7.83" height="7.44" fill="#00ffad"/>
<rect x="167.42" y="176.37" width="7.83" height="7.44" fill="#00fd83"/>
<rect x="174.95" y="176.37" width="7.83" height="7.44" fill="#00ff8f"/>
<rect x="182.48" y="176.37" width="7.83" height="7.44" fill="#00ff9e"/>
<rect x="190.01" y="176.37" width="7.83" height="7.44" fill="#00ffad"/>
<rect x="197.54" y="176.37" width="7.83" height="7.44" fill="#00ff9e"/>
<rect x="205.07" y="176.37" width="7.83" height="7.44" fill="#00ffbf"/>
<rect x="212.60" y="176.37" width="7.83" height="7.44" fill="#00ff9e"/>
<rect x="220.13" y="176.37" width="7.83" height="7.44" fill="#00ffad"/>
<rect x="227.65" y="176.37" width="7.83" height="7.44" fill="#00ffd1"/>
<rect x="235.18" y="176.37" width="7.83" height="7.44" fill="#00ffe0"/>
<rect x="242.71" y="176.37" width="7.83" height="7.44" fill="#0093ff"/>
<rect x="250.24" y="176.37" width="7.83" height="7.44" fill="#000080"/>
<rect x="257.77" y="176.37" width="7.83" height="7.44" fill="#00bdff"/>
<rect x="265.30" y="176.37" width="7.83" height="7.44" fill="#00cbff"/>
<rect x="272.83" y="176.37" width="7.83" height="7.44" fill="#00ffef"/>
<rect x="280.36" y="176.37" width="15.36" height="7.44" fill="#00ffad"/>
<rect x="295.42" y="176.37" width="22.89" height="7.44" fill="#00ff9e"/>
<rect x="318.00" y="176.37" width="7.83" height="7.44" fill="#00ff8f"/>
<rect x="325.53" y="176.37" width="7.83" height="7.44" fill="#00fd83"/>
<rect x="333.06" y="176.37" width="15.36" height="7.44" fill="#00ff9e"/>
<rect x="348.12" y="176.37" width="7.83" height="7.44" fill="#00ff8f"/>
<rect x="355.65" y="176.37" width="22.89" height="7.44" fill="#00fd83"/>
<rect x="378.24" y="176.37" width="7.83" height="7.44" fill="#00ff8a"/>
<rect x="385.77" y="176.37" width="7.83" height="7.44" fill="#01f96e"/>
<rect x="393.30" y="176.37" width="7.83" height="7.44" fill="#60fd37"/>
<rect x="400.82" y="176.37" width="7.83" height="7.44" fill="#e8ff00"/>
<rect x="408.35" y="176.37" width="7.83" height="7.44" fill="#f8ff00"/>
<rect x="415.88" y="176.37" width="7.83" height="7.44" fill="#bcff05"/>
<rect x="423.41" y="176.37" width="7.83" height="7.44" fill="#92ff18"/>
<rect x="430.94" y="176.37" width="7.83" height="7.44" fill="#e8ff00"/>
<rect x="438.47" y="176.37" width="7.83" height="7.44" fill="#d4ff02"/>
<rect x="446.00" y="176.37" width="6.40" height="7.44" fill="#bcff05"/>
<rect x="78.60" y="183.51" width="6.30" height="7.44" fill="#ff5c00"/>
<rect x="84.60" y="183.51" width="7.83" height="7.44" fill="#fff600"/>
<rect x="92.13" y="183.51" width="7.83" height="7.44" fill="#d4ff02"/>
<rect x="99.66" y="183.51" width="15.36" height="7.44" fill="#60fd37"/>
<rect x="114.72" y="183.51" width="15.36" height="7.44" fill="#02f96b"/>
<rect x="129.78" y="183.51" width="7.83" height="7.44" fill="#00fa73"/>
<rect x="137.30" y="183.51" width="15.36" height="7.44" fill="#00fc7e"/>
<rect x="152.36" y="183.51" width="7.83" height="7.44" fill="#00ff8f"/>
<rect x="159.89" y="183.51" width="7.83" height="7.44" fill="#00ff9e"/>
<rect x="167.42" y="183.51" width="7.83" height="7.44" fill="#00fd83"/>
<rect x="174.95" y="183.51" width="7.83" height="7.44" fill="#00ff8f"/>
<rect x="182.48" y="183.51" width="7.83" height="7.44" fill="#00ff9e"/>
<rect x="190.01" y="183.51" width="7.83" height="7.44" fill="#00ffad"/>
<rect x="197.54" y="183.51" width="7.83" height="7.44" fill="#00ff9e"/>
<rect x="205.07" y="183.51" width="7.83" height="7.44" fill="#00ffbf"/>
<rect x="212.60" y="183.51" width="7.83" height="7.44" fill="#00ff9e"/>
<rect x="220.13" y="183.51" width="7.83" height="7.44" fill="#00ffad"/>
<rect x="227.65" y="183.51" width="15.36" height="7.44" fill="#00ffe0"/>
<rect x="242.71" y="183.51" width="7.83" height="7.44" fill="#00e6fb"/>
<rect x="250.24" y="183.51" width="7.83" height="7.44" fill="#00bdff"/>
<rect x="257.77" y="183.51" width="7.83" height="7.44" fill="#000080"/>
<rect x="265.30" y="183.51" width="7.83" height="7.44" fill="#00cbff"/>
<rect x="272.83" y="183.51" width="7.83" height="7.44" fill="#00ffef"/>
<rect x="280.36" y="183.51" width="15.36" height="7.44" fill="#00ffbf"/>
<rect x="295.42" y="183.51" width="7.83" height="7.44" fill="#00ff9e"/>
<rect x="302.95" y="183.51" width="53.00" height="7.44" fill="#00fd83"/>
<rect x="355.65" y="183.51" width="7.83" height="7.44" fill="#01f96e"/>
<rect x="363.18" y="183.51" width="7.83" height="7.44" fill="#22f957"/>
<rect x="370.71" y="183.51" width="7.83" height="7.44" fill="#00fd83"/>
<rect x="378.24" y="183.51" width="7.83" height="7.44" fill="#00fa73"/>
<rect x="385.77" y="183.51" width="7.83" height="7.44" fill="#04f866"/>
<rect x="393.30" y="183.51" width="7.83" height="7.44" fill="#7fff23"/>
<rect x="400.82" y="183.51" width="15.36" height="7.44" fill="#ffe700"/>
<rect x="415.88" y="183.51" width="7.83" height="7.44" fill="#d4ff02"/>
<rect x="423.41" y="183.51" width="7.83" height="7.44" fill="#92ff18"/>
<rect x="430.94" y="183.51" width="7.83" height="7.44" fill="#e8ff00"/>
<rect x="438.47" y="183.51" width="7.83" height="7.44" fill="#d4ff02"/>
<rect x="446.00" y="183.51" width="6.40" height="7.44" fill="#bcff05"/>
<rect x="78.60" y="190.65" width="6.30" height="7.44" fill="#ff7200"/>
<rect x="84.60" y="190.65" width="7.83" height="7.44" fill="#f8ff00"/>
<rect x="92.13" y="190.65" width="7.83" height="7.44" fill="#d4ff02"/>
<rect x="99.66" y="190.65" width="15.36" height="7.44" fill="#60fd37"/>
<rect x="114.72" y="190.65" width="7.83" height="7.44" fill="#05f863"/>
<rect x="122.25" y="190.65" width="7.83" height="7.44" fill="#02f96b"/>
<rect x="129.78" y="190.65" width="7.83" height="7.44" fill="#40fa4c"/>
<rect x="137.30" y="190.65" width="15.36" height="7.44" fill="#00fa73"/>
<rect x="152.36" y="190.65" width="7.83" height="7.44" fill="#00fb77"/>
<rect x="159.89" y="190.65" width="7.83" height="7.44" fill="#00fd83"/>
<rect x="167.42" y="190.65" width="22.89" height="7.44" fill="#00fb77"/>
<rect x="190.01" y="190.65" width="15.36" height="7.44" fill="#00fd83"/>
<rect x="205.07" y="190.65" width="7.83" height="7.44" fill="#00ff9e"/>
<rect x="212.60" y="190.65" width="7.83" height="7.44" fill="#00ff8f"/>
<rect x="220.13" y="190.65" width="7.83" height="7.44" fill="#00ff9e"/>
<rect x="227.65" y="190.65" width="7.83" height="7.44" fill="#00ffad"/>
<rect x="235.18" y="190.65" width="7.83" height="7.44" fill="#00ffbf"/>
<rect x="242.71" y="190.65" width="7.83" height="7.44" fill="#00ffef"/>
<rect x="250.24" y="190.65" width="15.36" height="7.44" fill="#00cbff"/>
<rect x="265.30" y="190.65" width="7.83" height="7.44" fill="#000080"/>
<rect x="272.83" y="190.65" width="7.83" height="7.44" fill="#00d9ff"/>
<rect x="280.36" y="190.65" width="7.83" height="7.44" fill="#00ffd1"/>
<rect x="287.89" y="190.65" width="7.83" height="7.44" fill="#00ffe0"/>
<rect x="295.42" y="190.65" width="22.89" height="7.44" fill="#00ffad"/>
<rect x="318.00" y="190.65" width="7.83" height="7.44" fill="#00ff9e"/>
<rect x="325.53" y="190.65" width="15.36" height="7.44" fill="#00ff8f"/>
<rect x="340.59" y="190.65" width="7.83" height="7.44" fill="#00ffad"/>
<rect x="348.12" y="190.65" width="7.83" height="7.44" fill="#00ff8f"/>
<rect x="355.65" y="190.65" width="22.89" height="7.44" fill="#00fd83"/>
<rect x="378.24" y="190.65" width="7.83" height="7.44" fill="#00ff8a"/>
<rect x="385.77" y="190.65" width="7.83" height="7.44" fill="#04f866"/>
<rect x="393.30" y="190.65" width="7.83" height="7.44" fill="#7fff23"/>
<rect x="400.82" y="190.65" width="7.83" height="7.44" fill="#f8ff00"/>
<rect x="408.35" y="190.65" width="7.83" height="7.44" fill="#fff600"/>
<rect x="415.88" y="190.65" width="7.83" height="7.44" fill="#d4ff02"/>
<rect x="423.41" y="190.65" width="7.83" height="7.44" fill="#7aff26"/>
<rect x="430.94" y="190.65" width="21.46" height="7.44" fill="#d4ff02"/>
<rect x="78.60" y="197.79" width="6.30" height="7.44" fill="#ff2500"/>
<rect x="84.60" y="197.79" width="7.83" height="7.44" fill="#ffcb00"/>
<rect x="92.13" y="197.79" width="7.83" height="7.44" fill="#fff600"/>
<rect x="99.66" y="197.79" width="15.36" height="7.44" fill="#7fff23"/>
<rect x="114.72" y="197.79" width="22.89" height="7.44" fill="#40fa4c"/>
<rect x="137.30" y="197.79" width="7.83" height="7.44" fill="#02f96b"/>
<rect x="144.83" y="197.79" width="7.83" height="7.44" fill="#40fa4c"/>
<rect x="152.36" y="197.79" width="7.83" height="7.44" fill="#04f866"/>
<rect x="159.89" y="197.79" width="45.48" height="7.44" fill="#00fb77"/>
<rect x="205.07" y="197.79" width="15.36" height="7.44" fill="#00fd83"/>
<rect x="220.13" y="197.79" width="7.83" height="7.44" fill="#00ff8f"/>
<rect x="227.65" y="197.79" width="7.83" height="7.44" fill="#00ff9e"/>
<rect x="235.18" y="197.79" width="7.83" height="7.44" fill="#00ffad"/>
<rect x="242.71" y="197.79" width="7.83" height="7.44" fill="#00ffd1"/>
<rect x="250.24" y="197.79" width="15.36" height="7.44" fill="#00ffef"/>
<rect x="265.30" y="197.79" width="7.83" height="7.44" fill="#00d9ff"/>
<rect x="272.83" y="197.79" width="7.83" height="7.44" fill="#000080"/>
<rect x="280.36" y="197.79" width="7.83" height="7.44" fill="#00e6fb"/>
<rect x="287.89" y="197.79" width="7.83" height="7.44" fill="#00f4f6"/>
<rect x="295.42" y="197.79" width="22.89" height="7.44" fill="#00ffbf"/>
<rect x="318.00" y="197.79" width="15.36" height="7.44" fill="#00ffad"/>
<rect x="333.06" y="197.79" width="7.83" height="7.44" fill="#00ff9e"/>
<rect x="340.59" y="197.79" width="7.83" height="7.44" fill="#00ffbf"/>
<rect x="348.12" y="197.79" width="7.83" height="7.44" fill="#00ff9e"/>
<rect x="355.65" y="197.79" width="15.36" height="7.44" fill="#00fd83"/>
<rect x="370.71" y="197.79" width="7.83" height="7.44" fill="#00ff8f"/>
<rect x="378.24" y="197.79" width="7.83" height="7.44" fill="#00ff98"/>
<rect x="385.77" y="197.79" width="7.83" height="7.44" fill="#01f96e"/>
<rect x="393.30" y="197.79" width="7.83" height="7.44" fill="#60fd37"/>
<rect x="400.82" y="197.79" width="7.83" height="7.44" fill="#d4ff02"/>
<rect x="408.35" y="197.79" width="7.83" height="7.44" fill="#e8ff00"/>
<rect x="415.88" y="197.79" width="7.83" height="7.44" fill="#bcff05"/>
<rect x="423.41" y="197.79" width="7.83" height="7.44" fill="#00fb77"/>
<rect x="430.94" y="197.79" width="21.46" height="7.44" fill="#a4ff0d"/>
<rect x="78.60" y="204.93" width="6.30" height="7.44" fill="#ff2500"/>
<rect x="84.60" y="204.93" width="7.83" height="7.44" fill="#ffcb00"/>
<rect x="92.13" y="204.93" width="7.83" height="7.44" fill="#fff600"/>
<rect x="99.66" y="204.93" width="7.83" height="7.44" fill="#adff08"/>
<rect x="107.19" y="204.93" width="7.83" height="7.44" fill="#c6ff04"/>
<rect x="114.72" y="204.93" width="7.83" height="7.44" fill="#adff08"/>
<rect x="122.25" y="204.93" width="7.83" height="7.44" fill="#96ff16"/>
<rect x="129.78" y="204.93" width="7.83" height="7.44" fill="#7fff23"/>
<rect x="137.30" y="204.93" width="7.83" height="7.44" fill="#05f863"/>
<rect x="144.83" y="204.93" width="7.83" height="7.44" fill="#60fd37"/>
<rect x="152.36" y="204.93" width="7.83" height="7.44" fill="#a4ff0d"/>
<rect x="159.89" y="204.93" width="45.48" height="7.44" fill="#01f96e"/>
<rect x="205.07" y="204.93" width="15.36" height="7.44" fill="#00fb77"/>
<rect x="220.13" y="204.93" width="7.83" height="7.44" fill="#00fd83"/>
<rect x="227.65" y="204.93" width="15.36" height="7.44" fill="#00ff8f"/>
<rect x="242.71" y="204.93" width="7.83" height="7.44" fill="#00ff9e"/>
<rect x="250.24" y="204.93" width="7.83" height="7.44" fill="#00ffad"/>
<rect x="257.77" y="204.93" width="7.83" height="7.44" fill="#00ffbf"/>
<rect x="265.30" y="204.93" width="7.83" height="7.44" fill="#00ffd1"/>
<rect x="272.83" y="204.93" width="7.83" height="7.44" fill="#00e6fb"/>
<rect x="280.36" y="204.93" width="7.83" height="7.44" fill="#000080"/>
<rect x="287.89" y="204.93" width="7.83" height="7.44" fill="#00d9ff"/>
<rect x="295.42" y="204.93" width="7.83" height="7.44" fill="#00ffef"/>
<rect x="302.95" y="204.93" width="15.36" height="7.44" fill="#00ffd1"/>
<rect x="318.00" y="204.93" width="7.83" height="7.44" fill="#00ffbf"/>
<rect x="325.53" y="204.93" width="7.83" height="7.44" fill="#00ffad"/>
<rect x="333.06" y="204.93" width="7.83" height="7.44" fill="#00ff9e"/>
<rect x="340.59" y="204.93" width="7.83" height="7.44" fill="#00ffbf"/>
<rect x="348.12" y="204.93" width="7.83" height="7.44" fill="#00ff9e"/>
<rect x="355.65" y="204.93" width="15.36" height="7.44" fill="#00fd83"/>
<rect x="370.71" y="204.93" width="7.83" height="7.44" fill="#00ff8f"/>
<rect x="378.24" y="204.93" width="7.83" height="7.44" fill="#00ff98"/>
<rect x="385.77" y="204.93" width="7.83" height="7.44" fill="#01f96e"/>
<rect x="393.30" y="204.93" width="7.83" height="7.44" fill="#60fd37"/>
<rect x="400.82" y="204.93" width="7.83" height="7.44" fill="#e8ff00"/>
<rect x="408.35" y="204.93" width="7.83" height="7.44" fill="#f8ff00"/>
<rect x="415.88" y="204.93" width="7.83" height="7.44" fill="#d4ff02"/>
<rect x="423.41" y="204.93" width="7.83" height="7.44" fill="#7aff26"/>
<rect x="430.94" y="204.93" width="21.46" height="7.44" fill="#bcff05"/>
<rect x="78.60" y="212.07" width="6.30" height="7.44" fill="#ff5c00"/>
<rect x="84.60" y="212.07" width="7.83" height="7.44" fill="#fff600"/>
<rect x="92.13" y="212.07" width="7.83" height="7.44" fill="#e8ff00"/>
<rect x="99.66" y="212.07" width="15.36" height="7.44" fill="#7fff23"/>
<rect x="114.72" y="212.07" width="7.83" height="7.44" fill="#60fd37"/>
<rect x="122.25" y="212.07" width="22.89" height="7.44" fill="#05f863"/>
<rect x="144.83" y="212.07" width="7.83" height="7.44" fill="#40fa4c"/>
<rect x="152.36" y="212.07" width="7.83" height="7.44" fill="#00fb77"/>
<rect x="159.89" y="212.07" width="7.83" height="7.44" fill="#00fd83"/>
<rect x="167.42" y="212.07" width="7.83" height="7.44" fill="#00fb77"/>
<rect x="174.95" y="212.07" width="7.83" height="7.44" fill="#00ff8f"/>
<rect x="182.48" y="212.07" width="22.89" height="7.44" fill="#00fd83"/>
<rect x="205.07" y="212.07" width="7.83" height="7.44" fill="#00ff8f"/>
<rect x="212.60" y="212.07" width="7.83" height="7.44" fill="#00ffad"/>
<rect x="220.13" y="212.07" width="7.83" height="7.44" fill="#00ffd1"/>
<rect x="227.65" y="212.07" width="22.89" height="7.44" fill="#00ff9e"/>
<rect x="250.24" y="212.07" width="7.83" height="7.44" fill="#00ffad"/>
<rect x="257.77" y="212.07" width="7.83" height="7.44" fill="#00ffbf"/>
<rect x="265.30" y="212.07" width="7.83" height="7.44" fill="#00ffe0"/>
<rect x="272.83" y="212.07" width="7.83" height="7.44" fill="#00f4f6"/>
<rect x="280.36" y="212.07" width="7.83" height="7.44" fill="#00d9ff"/>
<rect x="287.89" y="212.07" width="7.83" height="7.44" fill="#000080"/>
<rect x="295.42" y="212.07" width="7.83" height="7.44" fill="#00bdff"/>
<rect x="302.95" y="212.07" width="7.83" height="7.44" fill="#00f4f6"/>
<rect x="310.47" y="212.07" width="7.83" height="7.44" fill="#00ffef"/>
<rect x="318.00" y="212.07" width="7.83" height="7.44" fill="#00ffe0"/>
<rect x="325.53" y="212.07" width="7.83" height="7.44" fill="#00ffbf"/>
<rect x="333.06" y="212.07" width="7.83" height="7.44" fill="#00ffad"/>
<rect x="340.59" y="212.07" width="7.83" height="7.44" fill="#00ffd1"/>
<rect x="348.12" y="212.07" width="7.83" height="7.44" fill="#00ffad"/>
<rect x="355.65" y="212.07" width="15.36" height="7.44" fill="#00fd83"/>
<rect x="370.71" y="212.07" width="7.83" height="7.44" fill="#00ff8f"/>
<rect x="378.24" y="212.07" width="7.83" height="7.44" fill="#00ffa7"/>
<rect x="385.77" y="212.07" width="7.83" height="7.44" fill="#00fb77"/>
<rect x="393.30" y="212.07" width="7.83" height="7.44" fill="#60fd37"/>
<rect x="400.82" y="212.07" width="7.83" height="7.44" fill="#d4ff02"/>
<rect x="408.35" y="212.07" width="7.83" height="7.44" fill="#e8ff00"/>
<rect x="415.88" y="212.07" width="7.83" height="7.44" fill="#bcff05"/>
<rect x="423.41" y="212.07" width="7.83" height="7.44" fill="#00fb77"/>
<rect x="430.94" y="212.07" width="7.83" height="7.44" fill="#8dff1b"/>
<rect x="438.47" y="212.07" width="13.93" height="7.44" fill="#a4ff0d"/>
<rect x="78.60" y="219.21" width="6.30" height="7.44" fill="#ff2500"/>
<rect x="84.60" y="219.21" width="7.83" height="7.44" fill="#ffb000"/>
<rect x="92.13" y="219.21" width="7.83" height="7.44" fill="#ffe700"/>
<rect x="99.66" y="219.21" width="15.36" height="7.44" fill="#adff08"/>
<rect x="114.72" y="219.21" width="7.83" height="7.44" fill="#96ff16"/>
<rect x="122.25" y="219.21" width="30.42" height="7.44" fill="#7fff23"/>
<rect x="152.36" y="219.21" width="7.83" height="7.44" fill="#53fc40"/>
<rect x="159.89" y="219.21" width="7.83" height="7.44" fill="#00fb77"/>
<rect x="167.42" y="219.21" width="37.95" height="7.44" fill="#01f96e"/>
<rect x="205.07" y="219.21" width="15.36" height="7.44" fill="#00fb77"/>
<rect x="220.13" y="219.21" width="7.83" height="7.44" fill="#00fd83"/>
<rect x="227.65" y="219.21" width="22.89" height="7.44" fill="#00ff8f"/>
<rect x="250.24" y="219.21" width="15.36" height="7.44" fill="#00ff9e"/>
<rect x="265.30" y="219.21" width="7.83" height="7.44" fill="#00ffad"/>
<rect x="272.83" y="219.21" width="7.83" height="7.44" fill="#00ffbf"/>
<rect x="280.36" y="219.21" width="7.83" height="7.44" fill="#00ffef"/>
<rect x="287.89" y="219.21" width="7.83" height="7.44" fill="#00bdff"/>
<rect x="295.42" y="219.21" width="7.83" height="7.44" fill="#000080"/>
<rect x="302.95" y="219.21" width="7.83" height="7.44" fill="#00a1ff"/>
<rect x="310.47" y="219.21" width="7.83" height="7.44" fill="#00bdff"/>
<rect x="318.00" y="219.21" width="7.83" height="7.44" fill="#00cbff"/>
<rect x="325.53" y="219.21" width="7.83" height="7.44" fill="#00ffef"/>
<rect x="333.06" y="219.21" width="7.83" height="7.44" fill="#00ffbf"/>
<rect x="340.59" y="219.21" width="7.83" height="7.44" fill="#00ffef"/>
<rect x="348.12" y="219.21" width="7.83" height="7.44" fill="#00ffad"/>
<rect x="355.65" y="219.21" width="15.36" height="7.44" fill="#00fd83"/>
<rect x="370.71" y="219.21" width="7.83" height="7.44" fill="#00ff8f"/>
<rect x="378.24" y="219.21" width="7.83" height="7.44" fill="#00ffb8"/>
<rect x="385.77" y="219.21" width="7.83" height="7.44" fill="#00fd83"/>
<rect x="393.30" y="219.21" width="7.83" height="7.44" fill="#40fa4c"/>
<rect x="400.82" y="219.21" width="7.83" height="7.44" fill="#d4ff02"/>
<rect x="408.35" y="219.21" width="7.83" height="7.44" fill="#e8ff00"/>
<rect x="415.88" y="219.21" width="7.83" height="7.44" fill="#a4ff0d"/>
<rect x="423.41" y="219.21" width="7.83" height="7.44" fill="#04f864"/>
<rect x="430.94" y="219.21" width="7.83" height="7.44" fill="#8dff1b"/>
<rect x="438.47" y="219.21" width="13.93" height="7.44" fill="#a4ff0d"/>
<rect x="78.60" y="226.35" width="6.30" height="7.44" fill="#ff8800"/>
<rect x="84.60" y="226.35" width="7.83" height="7.44" fill="#fff600"/>
<rect x="92.13" y="226.35" width="7.83" height="7.44" fill="#e8ff00"/>
<rect x="99.66" y="226.35" width="7.83" height="7.44" fill="#53fc40"/>
<rect x="107.19" y="226.35" width="7.83" height="7.44" fill="#22f957"/>
<rect x="114.72" y="226.35" width="7.83" height="7.44" fill="#03f867"/>
<rect x="122.25" y="226.35" width="7.83" height="7.44" fill="#01f96e"/>
<rect x="129.78" y="226.35" width="7.83" height="7.44" fill="#04f866"/>
<rect x="137.30" y="226.35" width="15.36" height="7.44" fill="#53fc40"/>
<rect x="152.36" y="226.35" width="7.83" height="7.44" fill="#04f866"/>
<rect x="159.89" y="226.35" width="7.83" height="7.44" fill="#00ff8f"/>
<rect x="167.42" y="226.35" width="15.36" height="7.44" fill="#00fb77"/>
<rect x="182.48" y="226.35" width="7.83" height="7.44" fill="#4dfb44"/>
<rect x="190.01" y="226.35" width="15.36" height="7.44" fill="#00fb77"/>
<rect x="205.07" y="226.35" width="7.83" height="7.44" fill="#00ff8f"/>
<rect x="212.60" y="226.35" width="7.83" height="7.44" fill="#31f952"/>
<rect x="220.13" y="226.35" width="7.83" height="7.44" fill="#00fb77"/>
<rect x="227.65" y="226.35" width="7.83" height="7.44" fill="#00fd83"/>
<rect x="235.18" y="226.35" width="7.83" height="7.44" fill="#00fb77"/>
<rect x="242.71" y="226.35" width="7.83" height="7.44" fill="#00ff8f"/>
<rect x="250.24" y="226.35" width="7.83" height="7.44" fill="#00ff9e"/>
<rect x="257.77" y="226.35" width="7.83" height="7.44" fill="#00fd83"/>
<rect x="265.30" y="226.35" width="7.83" height="7.44" fill="#00ffad"/>
<rect x="272.83" y="226.35" width="7.83" height="7.44" fill="#00ffbf"/>
<rect x="280.36" y="226.35" width="7.83" height="7.44" fill="#00ffd1"/>
<rect x="287.89" y="226.35" width="7.83" height="7.44" fill="#00f4f6"/>
<rect x="295.42" y="226.35" width="7.83" height="7.44" fill="#00a1ff"/>
<rect x="302.95" y="226.35" width="7.83" height="7.44" fill="#000080"/>
<rect x="310.47" y="226.35" width="7.83" height="7.44" fill="#00bdff"/>
<rect x="318.00" y="226.35" width="7.83" height="7.44" fill="#00d9ff"/>
<rect x="325.53" y="226.35" width="7.83" height="7.44" fill="#00f4f6"/>
<rect x="333.06" y="226.35" width="15.36" height="7.44" fill="#00ffef"/>
<rect x="348.12" y="226.35" width="7.83" height="7.44" fill="#00ffd1"/>
<rect x="355.65" y="226.35" width="7.83" height="7.44" fill="#00ff9e"/>
<rect x="363.18" y="226.35" width="7.83" height="7.44" fill="#00ff8f"/>
<rect x="370.71" y="226.35" width="7.83" height="7.44" fill="#00ff9e"/>
<rect x="378.24" y="226.35" width="7.83" height="7.44" fill="#00ffda"/>
<rect x="385.77" y="226.35" width="7.83" height="7.44" fill="#00ffb8"/>
<rect x="393.30" y="226.35" width="7.83" height="7.44" fill="#00fc7e"/>
<rect x="400.82" y="226.35" width="15.36" height="7.44" fill="#a4ff0d"/>
<rect x="415.88" y="226.35" width="7.83" height="7.44" fill="#74fe2b"/>
<rect x="423.41" y="226.35" width="7.83" height="7.44" fill="#00fd83"/>
<rect x="430.94" y="226.35" width="21.46" height="7.44" fill="#74fe2b"/>
<rect x="78.60" y="233.49" width="6.30" height="7.44" fill="#ff4e00"/>
<rect x="84.60" y="233.49" width="7.83" height="7.44" fill="#ffbd00"/>
<rect x="92.13" y="233.49" width="7.83" height="7.44" fill="#ffe700"/>
<rect x="99.66" y="233.49" width="15.36" height="7.44" fill="#8dff1b"/>
<rect x="114.72" y="233.49" width="7.83" height="7.44" fill="#4dfb44"/>
<rect x="122.25" y="233.49" width="22.89" height="7.44" fill="#74fe2b"/>
<rect x="144.83" y="233.49" width="7.83" height="7.44" fill="#8dff1b"/>
<rect x="152.36" y="233.49" width="7.83" height="7.44" fill="#53fc40"/>
<rect x="159.89" y="233.49" width="7.83" height="7.44" fill="#00ff8f"/>
<rect x="167.42" y="233.49" width="7.83" height="7.44" fill="#60fd37"/>
<rect x="174.95" y="233.49" width="30.42" height="7.44" fill="#00fd83"/>
<rect x="205.07" y="233.49" width="7.83" height="7.44" fill="#00ff9e"/>
<rect x="212.60" y="233.49" width="7.83" height="7.44" fill="#05f863"/>
<rect x="220.13" y="233.49" width="15.36" height="7.44" fill="#00fd83"/>
<rect x="235.18" y="233.49" width="7.83" height="7.44" fill="#00fb77"/>
<rect x="242.71" y="233.49" width="7.83" height="7.44" fill="#00ff8f"/>
<rect x="250.24" y="233.49" width="7.83" height="7.44" fill="#00ff9e"/>
<rect x="257.77" y="233.49" width="7.83" height="7.44" fill="#00fd83"/>
<rect x="265.30" y="233.49" width="7.83" height="7.44" fill="#00ffad"/>
<rect x="272.83" y="233.49" width="7.83" height="7.44" fill="#00ffbf"/>
<rect x="280.36" y="233.49" width="7.83" height="7.44" fill="#00ffd1"/>
<rect x="287.89" y="233.49" width="7.83" height="7.44" fill="#00ffef"/>
<rect x="295.42" y="233.49" width="15.36" height="7.44" fill="#00bdff"/>
<rect x="310.47" y="233.49" width="7.83" height="7.44" fill="#000080"/>
<rect x="318.00" y="233.49" width="7.83" height="7.44" fill="#00bdff"/>
<rect x="325.53" y="233.49" width="7.83" height="7.44" fill="#00e6fb"/>
<rect x="333.06" y="233.49" width="15.36" height="7.44" fill="#00ffef"/>
<rect x="348.12" y="233.49" width="7.83" height="7.44" fill="#00ffd1"/>
<rect x="355.65" y="233.49" width="7.83" height="7.44" fill="#00ff9e"/>
<rect x="363.18" y="233.49" width="7.83" height="7.44" fill="#00ff8f"/>
<rect x="370.71" y="233.49" width="7.83" height="7.44" fill="#00ffad"/>
<rect x="378.24" y="233.49" width="7.83" height="7.44" fill="#00ffda"/>
<rect x="385.77" y="233.49" width="7.83" height="7.44" fill="#00ffb8"/>
<rect x="393.30" y="233.49" width="7.83" height="7.44" fill="#00fc7e"/>
<rect x="400.82" y="233.49" width="15.36" height="7.44" fill="#8dff1b"/>
<rect x="415.88" y="233.49" width="7.83" height="7.44" fill="#22f957"/>
<rect x="423.41" y="233.49" width="7.83" height="7.44" fill="#00fd83"/>
<rect x="430.94" y="233.49" width="21.46" height="7.44" fill="#74fe2b"/>
<rect x="78.60" y="240.63" width="6.30" height="7.44" fill="#ff3300"/>
<rect x="84.60" y="240.63" width="7.83" height="7.44" fill="#ffa200"/>
<rect x="92.13" y="240.63" width="7.83" height="7.44" fill="#ffd900"/>
<rect x="99.66" y="240.63" width="15.36" height="7.44" fill="#8dff1b"/>
<rect x="114.72" y="240.63" width="7.83" height="7.44" fill="#4dfb44"/>
<rect x="122.25" y="240.63" width="30.42" height="7.44" fill="#74fe2b"/>
<rect x="152.36" y="240.63" width="7.83" height="7.44" fill="#53fc40"/>
<rect x="159.89" y="240.63" width="7.83" height="7.44" fill="#00ff8f"/>
<rect x="167.42" y="240.63" width="7.83" height="7.44" fill="#00fd83"/>
<rect x="174.95" y="240.63" width="22.89" height="7.44" fill="#00ff9e"/>
<rect x="197.54" y="240.63" width="7.83" height="7.44" fill="#00ff8f"/>
<rect x="205.07" y="240.63" width="7.83" height="7.44" fill="#00ffad"/>
<rect x="212.60" y="240.63" width="7.83" height="7.44" fill="#00fd83"/>
<rect x="220.13" y="240.63" width="7.83" height="7.44" fill="#00ff8f"/>
<rect x="227.65" y="240.63" width="7.83" height="7.44" fill="#00fd83"/>
<rect x="235.18" y="240.63" width="7.83" height="7.44" fill="#00fb77"/>
<rect x="242.71" y="240.63" width="7.83" height="7.44" fill="#00fd83"/>
<rect x="250.24" y="240.63" width="7.83" height="7.44" fill="#00ff8f"/>
<rect x="257.77" y="240.63" width="7.83" height="7.44" fill="#00fd83"/>
<rect x="265.30" y="240.63" width="7.83" height="7.44" fill="#00ff9e"/>
<rect x="272.83" y="240.63" width="7.83" height="7.44" fill="#00ffad"/>
<rect x="280.36" y="240.63" width="7.83" height="7.44" fill="#00ffbf"/>
<rect x="287.89" y="240.63" width="7.83" height="7.44" fill="#00ffe0"/>
<rect x="295.42" y="240.63" width="7.83" height="7.44" fill="#00cbff"/>
<rect x="302.95" y="240.63" width="7.83" height="7.44" fill="#00d9ff"/>
<rect x="310.47" y="240.63" width="7.83" height="7.44" fill="#00bdff"/>
<rect x="318.00" y="240.63" width="7.83" height="7.44" fill="#000080"/>
<rect x="325.53" y="240.63" width="7.83" height="7.44" fill="#00a1ff"/>
<rect x="333.06" y="240.63" width="7.83" height="7.44" fill="#00e6fb"/>
<rect x="340.59" y="240.63" width="7.83" height="7.44" fill="#00f4f6"/>
<rect x="348.12" y="240.63" width="7.83" height="7.44" fill="#00ffe0"/>
<rect x="355.65" y="240.63" width="7.83" height="7.44" fill="#00ff8f"/>
<rect x="363.18" y="240.63" width="7.83" height="7.44" fill="#00fd83"/>
<rect x="370.71" y="240.63" width="7.83" height="7.44" fill="#00ff9e"/>
<rect x="378.24" y="240.63" width="7.83" height="7.44" fill="#00ffca"/>
<rect x="385.77" y="240.63" width="7.83" height="7.44" fill="#00ff98"/>
<rect x="393.30" y="240.63" width="7.83" height="7.44" fill="#00fb77"/>
<rect x="400.82" y="240.63" width="15.36" height="7.44" fill="#d4ff02"/>
<rect x="415.88" y="240.63" width="7.83" height="7.44" fill="#a4ff0d"/>
<rect x="423.41" y="240.63" width="7.83" height="7.44" fill="#02f96c"/>
<rect x="430.94" y="240.63" width="21.46" height="7.44" fill="#a4ff0d"/>
<rect x="78.60" y="247.77" width="6.30" height="7.44" fill="#ff4100"/>
<rect x="84.60" y="247.77" width="7.83" height="7.44" fill="#ffa200"/>
<rect x="92.13" y="247.77" width="7.83" height="7.44" fill="#ffd900"/>
<rect x="99.66" y="247.77" width="15.36" height="7.44" fill="#8dff1b"/>
<rect x="114.72" y="247.77" width="7.83" height="7.44" fill="#6dfe2f"/>
<rect x="122.25" y="247.77" width="22.89" height="7.44" fill="#74fe2b"/>
<rect x="144.83" y="247.77" width="7.83" height="7.44" fill="#8dff1b"/>
<rect x="152.36" y="247.77" width="7.83" height="7.44" fill="#74fe2b"/>
<rect x="159.89" y="247.77" width="15.36" height="7.44" fill="#00ff8f"/>
<rect x="174.95" y="247.77" width="30.42" height="7.44" fill="#00ff9e"/>
<rect x="205.07" y="247.77" width="7.83" height="7.44" fill="#00ffbf"/>
<rect x="212.60" y="247.77" width="7.83" height="7.44" fill="#00ff8f"/>
<rect x="220.13" y="247.77" width="7.83" height="7.44" fill="#00ff9e"/>
<rect x="227.65" y="247.77" width="7.83" height="7.44" fill="#00fb77"/>
<rect x="235.18" y="247.77" width="7.83" height="7.44" fill="#53fc40"/>
<rect x="242.71" y="247.77" width="22.89" height="7.44" fill="#00fd83"/>
<rect x="265.30" y="247.77" width="7.83" height="7.44" fill="#00ff8f"/>
<rect x="272.83" y="247.77" width="15.36" height="7.44" fill="#00ffad"/>
<rect x="287.89" y="247.77" width="7.83" height="7.44" fill="#00ffbf"/>
<rect x="295.42" y="247.77" width="7.83" height="7.44" fill="#00ffef"/>
<rect x="302.95" y="247.77" width="7.83" height="7.44" fill="#00f4f6"/>
<rect x="310.47" y="247.77" width="7.83" height="7.44" fill="#00e6fb"/>
<rect x="318.00" y="247.77" width="7.83" height="7.44" fill="#00a1ff"/>
<rect x="325.53" y="247.77" width="7.83" height="7.44" fill="#000080"/>
<rect x="333.06" y="247.77" width="7.83" height="7.44" fill="#00cbff"/>
<rect x="340.59" y="247.77" width="7.83" height="7.44" fill="#00e6fb"/>
<rect x="348.12" y="247.77" width="7.83" height="7.44" fill="#00ffef"/>
<rect x="355.65" y="247.77" width="7.83" height="7.44" fill="#00ff9e"/>
<rect x="363.18" y="247.77" width="7.83" height="7.44" fill="#00fd83"/>
<rect x="370.71" y="247.77" width="7.83" height="7.44" fill="#00ffad"/>
<rect x="378.24" y="247.77" width="7.83" height="7.44" fill="#00ffda"/>
<rect x="385.77" y="247.77" width="7.83" height="7.44" fill="#00ffa7"/>
<rect x="393.30" y="247.77" width="7.83" height="7.44" fill="#00fa73"/>
<rect x="400.82" y="247.77" width="15.36" height="7.44" fill="#8dff1b"/>
<rect x="415.88" y="247.77" width="7.83" height="7.44" fill="#22f957"/>
<rect x="423.41" y="247.77" width="7.83" height="7.44" fill="#00fa71"/>
<rect x="430.94" y="247.77" width="7.83" height="7.44" fill="#22f957"/>
<rect x="438.47" y="247.77" width="13.93" height="7.44" fill="#53fc40"/>
<rect x="78.60" y="254.91" width="6.30" height="7.44" fill="#ff7200"/>
<rect x="84.60" y="254.91" width="7.83" height="7.44" fill="#ffe700"/>
<rect x="92.13" y="254.91" width="7.83" height="7.44" fill="#f8ff00"/>
<rect x="99.66" y="254.91" width="15.36" height="7.44" fill="#53fc40"/>
<rect x="114.72" y="254.91" width="7.83" height="7.44" fill="#01f970"/>
<rect x="122.25" y="254.91" width="15.36" height="7.44" fill="#01f96e"/>
<rect x="137.30" y="254.91" width="7.83" height="7.44" fill="#04f866"/>
<rect x="144.83" y="254.91" width="7.83" height="7.44" fill="#22f957"/>
<rect x="152.36" y="254.91" width="7.83" height="7.44" fill="#04f866"/>
<rect x="159.89" y="254.91" width="15.36" height="7.44" fill="#00ff8f"/>
<rect x="174.95" y="254.91" width="30.42" height="7.44" fill="#00ff9e"/>
<rect x="205.07" y="254.91" width="7.83" height="7.44" fill="#00ffbf"/>
<rect x="212.60" y="254.91" width="7.83" height="7.44" fill="#00ff8f"/>
<rect x="220.13" y="254.91" width="7.83" height="7.44" fill="#00ff9e"/>
<rect x="227.65" y="254.91" width="7.83" height="7.44" fill="#00fb77"/>
<rect x="235.18" y="254.91" width="7.83" height="7.44" fill="#22f957"/>
<rect x="242.71" y="254.91" width="7.83" height="7.44" fill="#00fd83"/>
<rect x="250.24" y="254.91" width="7.83" height="7.44" fill="#00ff9e"/>
<rect x="257.77" y="254.91" width="7.83" height="7.44" fill="#00fd83"/>
<rect x="265.30" y="254.91" width="7.83" height="7.44" fill="#00ff8f"/>
<rect x="272.83" y="254.91" width="15.36" height="7.44" fill="#00ff9e"/>
<rect x="287.89" y="254.91" width="7.83" height="7.44" fill="#00ffad"/>
<rect x="295.42" y="254.91" width="7.83" height="7.44" fill="#00ffbf"/>
<rect x="302.95" y="254.91" width="15.36" height="7.44" fill="#00ffef"/>
<rect x="318.00" y="254.91" width="7.83" height="7.44" fill="#00e6fb"/>
<rect x="325.53" y="254.91" width="7.83" height="7.44" fill="#00cbff"/>
<rect x="333.06" y="254.91" width="7.83" height="7.44" fill="#000080"/>
<rect x="340.59" y="254.91" width="7.83" height="7.44" fill="#00a1ff"/>
<rect x="348.12" y="254.91" width="7.83" height="7.44" fill="#00bdff"/>
<rect x="355.65" y="254.91" width="7.83" height="7.44" fill="#00ffd1"/>
<rect x="363.18" y="254.91" width="7.83" height="7.44" fill="#00ff9e"/>
<rect x="370.71" y="254.91" width="7.83" height="7.44" fill="#00ffbf"/>
<rect x="378.24" y="254.91" width="7.83" height="7.44" fill="#00ffda"/>
<rect x="385.77" y="254.91" width="7.83" height="7.44" fill="#00ffa7"/>
<rect x="393.30" y="254.91" width="7.83" height="7.44" fill="#00fa73"/>
<rect x="400.82" y="254.91" width="15.36" height="7.44" fill="#a4ff0d"/>
<rect x="415.88" y="254.91" width="7.83" height="7.44" fill="#8dff1b"/>
<rect x="423.41" y="254.91" width="7.83" height="7.44" fill="#00fa75"/>
<rect x="430.94" y="254.91" width="15.36" height="7.44" fill="#53fc40"/>
<rect x="446.00" y="254.91" width="6.40" height="7.44" fill="#74fe2b"/>
<rect x="78.60" y="262.05" width="6.30" height="7.44" fill="#ff5c00"/>
<rect x="84.60" y="262.05" width="7.83" height="7.44" fill="#ffd900"/>
<rect x="92.13" y="262.05" width="7.83" height="7.44" fill="#fff600"/>
<rect x="99.66" y="262.05" width="7.83" height="7.44" fill="#8dff1b"/>
<rect x="107.19" y="262.05" width="7.83" height="7.44" fill="#74fe2b"/>
<rect x="114.72" y="262.05" width="7.83" height="7.44" fill="#14f85c"/>
<rect x="122.25" y="262.05" width="22.89" height="7.44" fill="#53fc40"/>
<rect x="144.83" y="262.05" width="15.36" height="7.44" fill="#74fe2b"/>
<rect x="159.89" y="262.05" width="7.83" height="7.44" fill="#00ff8f"/>
<rect x="167.42" y="262.05" width="7.83" height="7.44" fill="#00fd83"/>
<rect x="174.95" y="262.05" width="30.42" height="7.44" fill="#00ff8f"/>
<rect x="205.07" y="262.05" width="7.83" height="7.44" fill="#00ffad"/>
<rect x="212.60" y="262.05" width="7.83" height="7.44" fill="#00fd83"/>
<rect x="220.13" y="262.05" width="7.83" height="7.44" fill="#00ff8f"/>
<rect x="227.65" y="262.05" width="7.83" height="7.44" fill="#00fb77"/>
<rect x="235.18" y="262.05" width="7.83" height="7.44" fill="#01f96e"/>
<rect x="242.71" y="262.05" width="7.83" height="7.44" fill="#00fd83"/>
<rect x="250.24" y="262.05" width="7.83" height="7.44" fill="#00ff9e"/>
<rect x="257.77" y="262.05" width="7.83" height="7.44" fill="#00fd83"/>
<rect x="265.30" y="262.05" width="7.83" height="7.44" fill="#00ffad"/>
<rect x="272.83" y="262.05" width="15.36" height="7.44" fill="#00ffbf"/>
<rect x="287.89" y="262.05" width="7.83" height="7.44" fill="#00ffd1"/>
<rect x="295.42" y="262.05" width="22.89" height="7.44" fill="#00ffef"/>
<rect x="318.00" y="262.05" width="7.83" height="7.44" fill="#00f4f6"/>
<rect x="325.53" y="262.05" width="7.83" height="7.44" fill="#00e6fb"/>
<rect x="333.06" y="262.05" width="7.83" height="7.44" fill="#00a1ff"/>
<rect x="340.59" y="262.05" width="7.83" height="7.44" fill="#000080"/>
<rect x="348.12" y="262.05" width="7.83" height="7.44" fill="#0093ff"/>
<rect x="355.65" y="262.05" width="7.83" height="7.44" fill="#00ffef"/>
<rect x="363.18" y="262.05" width="7.83" height="7.44" fill="#00ffbf"/>
<rect x="370.71" y="262.05" width="7.83" height="7.44" fill="#00ffd1"/>
<rect x="378.24" y="262.05" width="7.83" height="7.44" fill="#00ffda"/>
<rect x="385.77" y="262.05" width="7.83" height="7.44" fill="#00ffa7"/>
<rect x="393.30" y="262.05" width="7.83" height="7.44" fill="#00fb77"/>
<rect x="400.82" y="262.05" width="7.83" height="7.44" fill="#bcff05"/>
<rect x="408.35" y="262.05" width="7.83" height="7.44" fill="#d4ff02"/>
<rect x="415.88" y="262.05" width="7.83" height="7.44" fill="#a4ff0d"/>
<rect x="423.41" y="262.05" width="7.83" height="7.44" fill="#02f96c"/>
<rect x="430.94" y="262.05" width="21.46" height="7.44" fill="#8dff1b"/>
<rect x="78.60" y="269.19" width="6.30" height="7.44" fill="#ff5c00"/>
<rect x="84.60" y="269.19" width="7.83" height="7.44" fill="#ffd900"/>
<rect x="92.13" y="269.19" width="7.83" height="7.44" fill="#fff600"/>
<rect x="99.66" y="269.19" width="7.83" height="7.44" fill="#8dff1b"/>
<rect x="107.19" y="269.19" width="7.83" height="7.44" fill="#74fe2b"/>
<rect x="114.72" y="269.19" width="7.83" height="7.44" fill="#14f85c"/>
<rect x="122.25" y="269.19" width="22.89" height="7.44" fill="#53fc40"/>
<rect x="144.83" y="269.19" width="7.83" height="7.44" fill="#8dff1b"/>
<rect x="152.36" y="269.19" width="7.83" height="7.44" fill="#74fe2b"/>
<rect x="159.89" y="269.19" width="7.83" height="7.44" fill="#00ff8f"/>
<rect x="167.42" y="269.19" width="7.83" height="7.44" fill="#00fb77"/>
<rect x="174.95" y="269.19" width="22.89" height="7.44" fill="#00ff8f"/>
<rect x="197.54" y="269.19" width="7.83" height="7.44" fill="#00fd83"/>
<rect x="205.07" y="269.19" width="7.83" height="7.44" fill="#00ff9e"/>
<rect x="212.60" y="269.19" width="7.83" height="7.44" fill="#00fb77"/>
<rect x="220.13" y="269.19" width="7.83" height="7.44" fill="#00fd83"/>
<rect x="227.65" y="269.19" width="7.83" height="7.44" fill="#00fb77"/>
<rect x="235.18" y="269.19" width="7.83" height="7.44" fill="#01f96e"/>
<rect x="242.71" y="269.19" width="7.83" height="7.44" fill="#00fd83"/>
<rect x="250.24" y="269.19" width="7.83" height="7.44" fill="#00ff8f"/>
<rect x="257.77" y="269.19" width="7.83" height="7.44" fill="#00fd83"/>
<rect x="265.30" y="269.19" width="7.83" height="7.44" fill="#00ff8f"/>
<rect x="272.83" y="269.19" width="15.36" height="7.44" fill="#00ff9e"/>
<rect x="287.89" y="269.19" width="15.36" height="7.44" fill="#00ffad"/>
<rect x="302.95" y="269.19" width="15.36" height="7.44" fill="#00ffd1"/>
<rect x="318.00" y="269.19" width="7.83" height="7.44" fill="#00ffe0"/>
<rect x="325.53" y="269.19" width="7.83" height="7.44" fill="#00ffef"/>
<rect x="333.06" y="269.19" width="7.83" height="7.44" fill="#00bdff"/>
<rect x="340.59" y="269.19" width="7.83" height="7.44" fill="#0093ff"/>
<rect x="348.12" y="269.19" width="7.83" height="7.44" fill="#000080"/>
<rect x="355.65" y="269.19" width="7.83" height="7.44" fill="#00e6fb"/>
<rect x="363.18" y="269.19" width="7.83" height="7.44" fill="#00ffd1"/>
<rect x="370.71" y="269.19" width="7.83" height="7.44" fill="#00ffe0"/>
<rect x="378.24" y="269.19" width="7.83" height="7.44" fill="#00ffca"/>
<rect x="385.77" y="269.19" width="7.83" height="7.44" fill="#00ff98"/>
<rect x="393.30" y="269.19" width="7.83" height="7.44" fill="#00fb77"/>
<rect x="400.82" y="269.19" width="15.36" height="7.44" fill="#a4ff0d"/>
<rect x="415.88" y="269.19" width="7.83" height="7.44" fill="#8dff1b"/>
<rect x="423.41" y="269.19" width="7.83" height="7.44" fill="#02f96c"/>
<rect x="430.94" y="269.19" width="21.46" height="7.44" fill="#74fe2b"/>
<rect x="78.60" y="276.32" width="6.30" height="7.44" fill="#ff6700"/>
<rect x="84.60" y="276.32" width="7.83" height="7.44" fill="#ffe700"/>
<rect x="92.13" y="276.32" width="7.83" height="7.44" fill="#f8ff00"/>
<rect x="99.66" y="276.32" width="15.36" height="7.44" fill="#8dff1b"/>
<rect x="114.72" y="276.32" width="7.83" height="7.44" fill="#14f85c"/>
<rect x="122.25" y="276.32" width="7.83" height="7.44" fill="#22f957"/>
<rect x="129.78" y="276.32" width="7.83" height="7.44" fill="#04f866"/>
<rect x="137.30" y="276.32" width="7.83" height="7.44" fill="#74fe2b"/>
<rect x="144.83" y="276.32" width="15.36" height="7.44" fill="#8dff1b"/>
<rect x="159.89" y="276.32" width="7.83" height="7.44" fill="#01f96e"/>
<rect x="167.42" y="276.32" width="7.83" height="7.44" fill="#a4ff0d"/>
<rect x="174.95" y="276.32" width="22.89" height="7.44" fill="#60fd37"/>
<rect x="197.54" y="276.32" width="7.83" height="7.44" fill="#8dff1b"/>
<rect x="205.07" y="276.32" width="7.83" height="7.44" fill="#01f96e"/>
<rect x="212.60" y="276.32" width="7.83" height="7.44" fill="#8dff1b"/>
<rect x="220.13" y="276.32" width="7.83" height="7.44" fill="#53fc40"/>
<rect x="227.65" y="276.32" width="7.83" height="7.44" fill="#22f957"/>
<rect x="235.18" y="276.32" width="7.83" height="7.44" fill="#8dff1b"/>
<rect x="242.71" y="276.32" width="15.36" height="7.44" fill="#00fd83"/>
<rect x="257.77" y="276.32" width="7.83" height="7.44" fill="#01f96e"/>
<rect x="265.30" y="276.32" width="37.95" height="7.44" fill="#00fd83"/>
<rect x="302.95" y="276.32" width="15.36" height="7.44" fill="#00ff9e"/>
<rect x="318.00" y="276.32" width="7.83" height="7.44" fill="#00ff8f"/>
<rect x="325.53" y="276.32" width="7.83" height="7.44" fill="#00ff9e"/>
<rect x="333.06" y="276.32" width="7.83" height="7.44" fill="#00ffd1"/>
<rect x="340.59" y="276.32" width="7.83" height="7.44" fill="#00ffef"/>
<rect x="348.12" y="276.32" width="7.83" height="7.44" fill="#00e6fb"/>
<rect x="355.65" y="276.32" width="7.83" height="7.44" fill="#000080"/>
<rect x="363.18" y="276.32" width="7.83" height="7.44" fill="#00d9ff"/>
<rect x="370.71" y="276.32" width="7.83" height="7.44" fill="#00ffef"/>
<rect x="378.24" y="276.32" width="7.83" height="7.44" fill="#00ffb8"/>
<rect x="385.77" y="276.32" width="7.83" height="7.44" fill="#00ff8a"/>
<rect x="393.30" y="276.32" width="7.83" height="7.44" fill="#01f96e"/>
<rect x="400.82" y="276.32" width="15.36" height="7.44" fill="#8dff1b"/>
<rect x="415.88" y="276.32" width="7.83" height="7.44" fill="#a4ff0d"/>
<rect x="423.41" y="276.32" width="7.83" height="7.44" fill="#04f864"/>
<rect x="430.94" y="276.32" width="15.36" height="7.44" fill="#d4ff02"/>
<rect x="446.00" y="276.32" width="6.40" height="7.44" fill="#bcff05"/>
<rect x="78.60" y="283.46" width="6.30" height="7.44" fill="#ff8800"/>
<rect x="84.60" y="283.46" width="7.83" height="7.44" fill="#fff600"/>
<rect x="92.13" y="283.46" width="7.83" height="7.44" fill="#e8ff00"/>
<rect x="99.66" y="283.46" width="15.36" height="7.44" fill="#8dff1b"/>
<rect x="114.72" y="283.46" width="7.83" height="7.44" fill="#4dfb44"/>
<rect x="122.25" y="283.46" width="15.36" height="7.44" fill="#74fe2b"/>
<rect x="137.30" y="283.46" width="15.36" height="7.44" fill="#a4ff0d"/>
<rect x="152.36" y="283.46" width="7.83" height="7.44" fill="#d4ff02"/>
<rect x="159.89" y="283.46" width="7.83" height="7.44" fill="#53fc40"/>
<rect x="167.42" y="283.46" width="7.83" height="7.44" fill="#d4ff02"/>
<rect x="174.95" y="283.46" width="22.89" height="7.44" fill="#74fe2b"/>
<rect x="197.54" y="283.46" width="7.83" height="7.44" fill="#bcff05"/>
<rect x="205.07" y="283.46" width="7.83" height="7.44" fill="#22f957"/>
<rect x="212.60" y="283.46" width="7.83" height="7.44" fill="#bcff05"/>
<rect x="220.13" y="283.46" width="15.36" height="7.44" fill="#8dff1b"/>
<rect x="235.18" y="283.46" width="7.83" height="7.44" fill="#a4ff0d"/>
<rect x="242.71" y="283.46" width="7.83" height="7.44" fill="#00fb77"/>
<rect x="250.24" y="283.46" width="7.83" height="7.44" fill="#00fd83"/>
<rect x="257.77" y="283.46" width="7.83" height="7.44" fill="#22f957"/>
<rect x="265.30" y="283.46" width="37.95" height="7.44" fill="#00fd83"/>
<rect x="302.95" y="283.46" width="15.36" height="7.44" fill="#00ff8f"/>
<rect x="318.00" y="283.46" width="15.36" height="7.44" fill="#00fd83"/>
<rect x="333.06" y="283.46" width="7.83" height="7.44" fill="#00ff9e"/>
<rect x="340.59" y="283.46" width="7.83" height="7.44" fill="#00ffbf"/>
<rect x="348.12" y="283.46" width="7.83" height="7.44" fill="#00ffd1"/>
<rect x="355.65" y="283.46" width="7.83" height="7.44" fill="#00d9ff"/>
<rect x="363.18" y="283.46" width="7.83" height="7.44" fill="#000080"/>
<rect x="370.71" y="283.46" width="7.83" height="7.44" fill="#00bdff"/>
<rect x="378.24" y="283.46" width="7.83" height="7.44" fill="#00ffca"/>
<rect x="385.77" y="283.46" width="7.83" height="7.44" fill="#00fc7e"/>
<rect x="393.30" y="283.46" width="7.83" height="7.44" fill="#01f96e"/>
<rect x="400.82" y="283.46" width="22.89" height="7.44" fill="#74fe2b"/>
<rect x="423.41" y="283.46" width="7.83" height="7.44" fill="#04f864"/>
<rect x="430.94" y="283.46" width="21.46" height="7.44" fill="#8dff1b"/>
<rect x="78.60" y="290.60" width="6.30" height="7.44" fill="#ff4e00"/>
<rect x="84.60" y="290.60" width="7.83" height="7.44" fill="#ffbd00"/>
<rect x="92.13" y="290.60" width="7.83" height="7.44" fill="#ffe700"/>
<rect x="99.66" y="290.60" width="15.36" height="7.44" fill="#8dff1b"/>
<rect x="114.72" y="290.60" width="7.83" height="7.44" fill="#4dfb44"/>
<rect x="122.25" y="290.60" width="15.36" height="7.44" fill="#8dff1b"/>
<rect x="137.30" y="290.60" width="15.36" height="7.44" fill="#a4ff0d"/>
<rect x="152.36" y="290.60" width="7.83" height="7.44" fill="#8dff1b"/>
<rect x="159.89" y="290.60" width="7.83" height="7.44" fill="#00fb77"/>
<rect x="167.42" y="290.60" width="37.95" height="7.44" fill="#53fc40"/>
<rect x="205.07" y="290.60" width="7.83" height="7.44" fill="#00fb77"/>
<rect x="212.60" y="290.60" width="7.83" height="7.44" fill="#53fc40"/>
<rect x="220.13" y="290.60" width="7.83" height="7.44" fill="#22f957"/>
<rect x="227.65" y="290.60" width="15.36" height="7.44" fill="#01f96e"/>
<rect x="242.71" y="290.60" width="30.42" height="7.44" fill="#00fd83"/>
<rect x="272.83" y="290.60" width="30.42" height="7.44" fill="#00ff8f"/>
<rect x="302.95" y="290.60" width="7.83" height="7.44" fill="#00ff9e"/>
<rect x="310.47" y="290.60" width="7.83" height="7.44" fill="#00ffad"/>
<rect x="318.00" y="290.60" width="7.83" height="7.44" fill="#00ff9e"/>
<rect x="325.53" y="290.60" width="7.83" height="7.44" fill="#00ffad"/>
<rect x="333.06" y="290.60" width="7.83" height="7.44" fill="#00ffbf"/>
<rect x="340.59" y="290.60" width="7.83" height="7.44" fill="#00ffd1"/>
<rect x="348.12" y="290.60" width="7.83" height="7.44" fill="#00ffe0"/>
<rect x="355.65" y="290.60" width="7.83" height="7.44" fill="#00ffef"/>
<rect x="363.18" y="290.60" width="7.83" height="7.44" fill="#00bdff"/>
<rect x="370.71" y="290.60" width="7.83" height="7.44" fill="#000080"/>
<rect x="378.24" y="290.60" width="7.83" height="7.44" fill="#0085ff"/>
<rect x="385.77" y="290.60" width="7.83" height="7.44" fill="#00ffe9"/>
<rect x="393.30" y="290.60" width="7.83" height="7.44" fill="#00ff98"/>
<rect x="400.82" y="290.60" width="22.89" height="7.44" fill="#01f96e"/>
<rect x="423.41" y="290.60" width="7.83" height="7.44" fill="#00ff8a"/>
<rect x="430.94" y="290.60" width="21.46" height="7.44" fill="#04f866"/>
<rect x="78.60" y="297.74" width="6.30" height="7.44" fill="#ff7200"/>
<rect x="84.60" y="297.74" width="7.83" height="7.44" fill="#ffd900"/>
<rect x="92.13" y="297.74" width="7.83" height="7.44" fill="#f8ff00"/>
<rect x="99.66" y="297.74" width="15.36" height="7.44" fill="#8dff1b"/>
<rect x="114.72" y="297.74" width="7.83" height="7.44" fill="#53fc40"/>
<rect x="122.25" y="297.74" width="30.42" height="7.44" fill="#8dff1b"/>
<rect x="152.36" y="297.74" width="7.83" height="7.44" fill="#96ff16"/>
<rect x="159.89" y="297.74" width="7.83" height="7.44" fill="#02f96b"/>
<rect x="167.42" y="297.74" width="7.83" height="7.44" fill="#60fd37"/>
<rect x="174.95" y="297.74" width="7.83" height="7.44" fill="#40fa4c"/>
<rect x="182.48" y="297.74" width="7.83" height="7.44" fill="#05f863"/>
<rect x="190.01" y="297.74" width="15.36" height="7.44" fill="#02f96b"/>
<rect x="205.07" y="297.74" width="7.83" height="7.44" fill="#00ff8a"/>
<rect x="212.60" y="297.74" width="30.42" height="7.44" fill="#02f96b"/>
<rect x="242.71" y="297.74" width="7.83" height="7.44" fill="#00fc7e"/>
<rect x="250.24" y="297.74" width="7.83" height="7.44" fill="#00ff8a"/>
<rect x="257.77" y="297.74" width="7.83" height="7.44" fill="#00fa73"/>
<rect x="265.30" y="297.74" width="7.83" height="7.44" fill="#00ff8a"/>
<rect x="272.83" y="297.74" width="15.36" height="7.44" fill="#00ff98"/>
<rect x="287.89" y="297.74" width="7.83" height="7.44" fill="#00ffa7"/>
<rect x="295.42" y="297.74" width="7.83" height="7.44" fill="#00ffb8"/>
<rect x="302.95" y="297.74" width="15.36" height="7.44" fill="#00ffda"/>
<rect x="318.00" y="297.74" width="7.83" height="7.44" fill="#00ffca"/>
<rect x="325.53" y="297.74" width="22.89" height="7.44" fill="#00ffda"/>
<rect x="348.12" y="297.74" width="7.83" height="7.44" fill="#00ffca"/>
<rect x="355.65" y="297.74" width="7.83" height="7.44" fill="#00ffb8"/>
<rect x="363.18" y="297.74" width="7.83" height="7.44" fill="#00ffca"/>
<rect x="370.71" y="297.74" width="7.83" height="7.44" fill="#0085ff"/>
<rect x="378.24" y="297.74" width="7.83" height="7.44" fill="#000080"/>
<rect x="385.77" y="297.74" width="7.83" height="7.44" fill="#00bdff"/>
<rect x="393.30" y="297.74" width="7.83" height="7.44" fill="#00d9ff"/>
<rect x="400.82" y="297.74" width="22.89" height="7.44" fill="#00ff9e"/>
<rect x="423.41" y="297.74" width="7.83" height="7.44" fill="#00ffad"/>
<rect x="430.94" y="297.74" width="21.46" height="7.44" fill="#00ff8f"/>
<rect x="78.60" y="304.88" width="6.30" height="7.44" fill="#ff3300"/>
<rect x="84.60" y="304.88" width="7.83" height="7.44" fill="#ff9400"/>
<rect x="92.13" y="304.88" width="7.83" height="7.44" fill="#ffbd00"/>
<rect x="99.66" y="304.88" width="15.36" height="7.44" fill="#a4ff0d"/>
<rect x="114.72" y="304.88" width="7.83" height="7.44" fill="#8dff1b"/>
<rect x="122.25" y="304.88" width="22.89" height="7.44" fill="#a4ff0d"/>
<rect x="144.83" y="304.88" width="7.83" height="7.44" fill="#bcff05"/>
<rect x="152.36" y="304.88" width="7.83" height="7.44" fill="#8dff1b"/>
<rect x="159.89" y="304.88" width="7.83" height="7.44" fill="#22f957"/>
<rect x="167.42" y="304.88" width="7.83" height="7.44" fill="#a4ff0d"/>
<rect x="174.95" y="304.88" width="7.83" height="7.44" fill="#8dff1b"/>
<rect x="182.48" y="304.88" width="7.83" height="7.44" fill="#53fc40"/>
<rect x="190.01" y="304.88" width="15.36" height="7.44" fill="#22f957"/>
<rect x="205.07" y="304.88" width="7.83" height="7.44" fill="#01f96e"/>
<rect x="212.60" y="304.88" width="7.83" height="7.44" fill="#74fe2b"/>
<rect x="220.13" y="304.88" width="7.83" height="7.44" fill="#53fc40"/>
<rect x="227.65" y="304.88" width="15.36" height="7.44" fill="#22f957"/>
<rect x="242.71" y="304.88" width="15.36" height="7.44" fill="#01f96e"/>
<rect x="257.77" y="304.88" width="15.36" height="7.44" fill="#04f866"/>
<rect x="272.83" y="304.88" width="15.36" height="7.44" fill="#01f96e"/>
<rect x="287.89" y="304.88" width="7.83" height="7.44" fill="#00fb77"/>
<rect x="295.42" y="304.88" width="7.83" height="7.44" fill="#00fd83"/>
<rect x="302.95" y="304.88" width="15.36" height="7.44" fill="#00ffb8"/>
<rect x="318.00" y="304.88" width="7.83" height="7.44" fill="#00ff98"/>
<rect x="325.53" y="304.88" width="22.89" height="7.44" fill="#00ffa7"/>
<rect x="348.12" y="304.88" width="7.83" height="7.44" fill="#00ff98"/>
<rect x="355.65" y="304.88" width="7.83" height="7.44" fill="#00ff8a"/>
<rect x="363.18" y="304.88" width="7.83" height="7.44" fill="#00fc7e"/>
<rect x="370.71" y="304.88" width="7.83" height="7.44" fill="#00ffe9"/>
<rect x="378.24" y="304.88" width="7.83" height="7.44" fill="#00bdff"/>
<rect x="385.77" y="304.88" width="7.83" height="7.44" fill="#000080"/>
<rect x="393.30" y="304.88" width="7.83" height="7.44" fill="#00bdff"/>
<rect x="400.82" y="304.88" width="7.83" height="7.44" fill="#00ffad"/>
<rect x="408.35" y="304.88" width="15.36" height="7.44" fill="#00ff9e"/>
<rect x="423.41" y="304.88" width="7.83" height="7.44" fill="#00ffad"/>
<rect x="430.94" y="304.88" width="21.46" height="7.44" fill="#00ff8f"/>
<rect x="78.60" y="312.02" width="6.30" height="7.44" fill="#ff2500"/>
<rect x="84.60" y="312.02" width="7.83" height="7.44" fill="#ff8800"/>
<rect x="92.13" y="312.02" width="7.83" height="7.44" fill="#ffa200"/>
<rect x="99.66" y="312.02" width="22.89" height="7.44" fill="#d4ff02"/>
<rect x="122.25" y="312.02" width="37.95" height="7.44" fill="#e8ff00"/>
<rect x="159.89" y="312.02" width="7.83" height="7.44" fill="#8dff1b"/>
<rect x="167.42" y="312.02" width="7.83" height="7.44" fill="#bcff05"/>
<rect x="174.95" y="312.02" width="7.83" height="7.44" fill="#d4ff02"/>
<rect x="182.48" y="312.02" width="7.83" height="7.44" fill="#bcff05"/>
<rect x="190.01" y="312.02" width="15.36" height="7.44" fill="#a4ff0d"/>
<rect x="205.07" y="312.02" width="7.83" height="7.44" fill="#53fc40"/>
<rect x="212.60" y="312.02" width="7.83" height="7.44" fill="#a4ff0d"/>
<rect x="220.13" y="312.02" width="7.83" height="7.44" fill="#8dff1b"/>
<rect x="227.65" y="312.02" width="7.83" height="7.44" fill="#7fff23"/>
<rect x="235.18" y="312.02" width="7.83" height="7.44" fill="#adff08"/>
<rect x="242.71" y="312.02" width="15.36" height="7.44" fill="#60fd37"/>
<rect x="257.77" y="312.02" width="15.36" height="7.44" fill="#7fff23"/>
<rect x="272.83" y="312.02" width="22.89" height="7.44" fill="#60fd37"/>
<rect x="295.42" y="312.02" width="7.83" height="7.44" fill="#40fa4c"/>
<rect x="302.95" y="312.02" width="15.36" height="7.44" fill="#00fc7e"/>
<rect x="318.00" y="312.02" width="7.83" height="7.44" fill="#00fb77"/>
<rect x="325.53" y="312.02" width="15.36" height="7.44" fill="#00fa73"/>
<rect x="340.59" y="312.02" width="15.36" height="7.44" fill="#00fb77"/>
<rect x="355.65" y="312.02" width="15.36" height="7.44" fill="#01f96e"/>
<rect x="370.71" y="312.02" width="7.83" height="7.44" fill="#00ff98"/>
<rect x="378.24" y="312.02" width="7.83" height="7.44" fill="#00d9ff"/>
<rect x="385.77" y="312.02" width="7.83" height="7.44" fill="#00bdff"/>
<rect x="393.30" y="312.02" width="7.83" height="7.44" fill="#000080"/>
<rect x="400.82" y="312.02" width="7.83" height="7.44" fill="#00ffef"/>
<rect x="408.35" y="312.02" width="7.83" height="7.44" fill="#00ffd1"/>
<rect x="415.88" y="312.02" width="7.83" height="7.44" fill="#00ffad"/>
<rect x="423.41" y="312.02" width="7.83" height="7.44" fill="#00ffd1"/>
<rect x="430.94" y="312.02" width="21.46" height="7.44" fill="#00ff8f"/>
<rect x="78.60" y="319.16" width="6.30" height="7.44" fill="#d90000"/>
<rect x="84.60" y="319.16" width="7.83" height="7.44" fill="#ff4100"/>
<rect x="92.13" y="319.16" width="7.83" height="7.44" fill="#ff5c00"/>
<rect x="99.66" y="319.16" width="15.36" height="7.44" fill="#ffb000"/>
<rect x="114.72" y="319.16" width="7.83" height="7.44" fill="#ffbd00"/>
<rect x="122.25" y="319.16" width="15.36" height="7.44" fill="#ffa200"/>
<rect x="137.30" y="319.16" width="7.83" height="7.44" fill="#ffb000"/>
<rect x="144.83" y="319.16" width="7.83" height="7.44" fill="#ffbd00"/>
<rect x="152.36" y="319.16" width="7.83" height="7.44" fill="#ffa200"/>
<rect x="159.89" y="319.16" width="7.83" height="7.44" fill="#fff600"/>
<rect x="167.42" y="319.16" width="7.83" height="7.44" fill="#ffbd00"/>
<rect x="174.95" y="319.16" width="7.83" height="7.44" fill="#ffcb00"/>
<rect x="182.48" y="319.16" width="22.89" height="7.44" fill="#ffe700"/>
<rect x="205.07" y="319.16" width="7.83" height="7.44" fill="#e8ff00"/>
<rect x="212.60" y="319.16" width="7.83" height="7.44" fill="#ffe700"/>
<rect x="220.13" y="319.16" width="7.83" height="7.44" fill="#fff600"/>
<rect x="227.65" y="319.16" width="7.83" height="7.44" fill="#e8ff00"/>
<rect x="235.18" y="319.16" width="7.83" height="7.44" fill="#ffd900"/>
<rect x="242.71" y="319.16" width="15.36" height="7.44" fill="#e8ff00"/>
<rect x="257.77" y="319.16" width="7.83" height="7.44" fill="#ffe700"/>
<rect x="265.30" y="319.16" width="7.83" height="7.44" fill="#f8ff00"/>
<rect x="272.83" y="319.16" width="7.83" height="7.44" fill="#d4ff02"/>
<rect x="280.36" y="319.16" width="7.83" height="7.44" fill="#e8ff00"/>
<rect x="287.89" y="319.16" width="15.36" height="7.44" fill="#d4ff02"/>
<rect x="302.95" y="319.16" width="7.83" height="7.44" fill="#a4ff0d"/>
<rect x="310.47" y="319.16" width="7.83" height="7.44" fill="#8dff1b"/>
<rect x="318.00" y="319.16" width="7.83" height="7.44" fill="#d4ff02"/>
<rect x="325.53" y="319.16" width="7.83" height="7.44" fill="#8dff1b"/>
<rect x="333.06" y="319.16" width="7.83" height="7.44" fill="#a4ff0d"/>
<rect x="340.59" y="319.16" width="7.83" height="7.44" fill="#bcff05"/>
<rect x="348.12" y="319.16" width="7.83" height="7.44" fill="#a4ff0d"/>
<rect x="355.65" y="319.16" width="7.83" height="7.44" fill="#8dff1b"/>
<rect x="363.18" y="319.16" width="7.83" height="7.44" fill="#74fe2b"/>
<rect x="370.71" y="319.16" width="7.83" height="7.44" fill="#01f96e"/>
<rect x="378.24" y="319.16" width="7.83" height="7.44" fill="#00ff9e"/>
<rect x="385.77" y="319.16" width="7.83" height="7.44" fill="#00ffad"/>
<rect x="393.30" y="319.16" width="7.83" height="7.44" fill="#00ffef"/>
<rect x="400.82" y="319.16" width="7.83" height="7.44" fill="#000080"/>
<rect x="408.35" y="319.16" width="7.83" height="7.44" fill="#00a1ff"/>
<rect x="415.88" y="319.16" width="7.83" height="7.44" fill="#00bdff"/>
<rect x="423.41" y="319.16" width="7.83" height="7.44" fill="#00ffe0"/>
<rect x="430.94" y="319.16" width="7.83" height="7.44" fill="#00ff9e"/>
<rect x="438.47" y="319.16" width="7.83" height="7.44" fill="#00ff8f"/>
<rect x="446.00" y="319.16" width="6.40" height="7.44" fill="#53fc40"/>
<rect x="78.60" y="326.30" width="6.30" height="7.44" fill="#af0000"/>
<rect x="84.60" y="326.30" width="7.83" height="7.44" fill="#ff2500"/>
<rect x="92.13" y="326.30" width="7.83" height="7.44" fill="#ff4100"/>
<rect x="99.66" y="326.30" width="15.36" height="7.44" fill="#ffa200"/>
<rect x="114.72" y="326.30" width="7.83" height="7.44" fill="#ffb000"/>
<rect x="122.25" y="326.30" width="15.36" height="7.44" fill="#ff8800"/>
<rect x="137.30" y="326.30" width="15.36" height="7.44" fill="#ffa200"/>
<rect x="152.36" y="326.30" width="7.83" height="7.44" fill="#ff8800"/>
<rect x="159.89" y="326.30" width="7.83" height="7.44" fill="#ffd900"/>
<rect x="167.42" y="326.30" width="7.83" height="7.44" fill="#ffa200"/>
<rect x="174.95" y="326.30" width="7.83" height="7.44" fill="#ffb000"/>
<rect x="182.48" y="326.30" width="7.83" height="7.44" fill="#ffcb00"/>
<rect x="190.01" y="326.30" width="15.36" height="7.44" fill="#ffd900"/>
<rect x="205.07" y="326.30" width="7.83" height="7.44" fill="#f8ff00"/>
<rect x="212.60" y="326.30" width="7.83" height="7.44" fill="#ffd900"/>
<rect x="220.13" y="326.30" width="7.83" height="7.44" fill="#ffe700"/>
<rect x="227.65" y="326.30" width="7.83" height="7.44" fill="#e8ff00"/>
<rect x="235.18" y="326.30" width="7.83" height="7.44" fill="#ffd900"/>
<rect x="242.71" y="326.30" width="7.83" height="7.44" fill="#fff600"/>
<rect x="250.24" y="326.30" width="7.83" height="7.44" fill="#f8ff00"/>
<rect x="257.77" y="326.30" width="7.83" height="7.44" fill="#ffe700"/>
<rect x="265.30" y="326.30" width="7.83" height="7.44" fill="#fff600"/>
<rect x="272.83" y="326.30" width="7.83" height="7.44" fill="#e8ff00"/>
<rect x="280.36" y="326.30" width="7.83" height="7.44" fill="#f8ff00"/>
<rect x="287.89" y="326.30" width="15.36" height="7.44" fill="#e8ff00"/>
<rect x="302.95" y="326.30" width="7.83" height="7.44" fill="#a4ff0d"/>
<rect x="310.47" y="326.30" width="7.83" height="7.44" fill="#8dff1b"/>
<rect x="318.00" y="326.30" width="7.83" height="7.44" fill="#d4ff02"/>
<rect x="325.53" y="326.30" width="7.83" height="7.44" fill="#8dff1b"/>
<rect x="333.06" y="326.30" width="7.83" height="7.44" fill="#a4ff0d"/>
<rect x="340.59" y="326.30" width="7.83" height="7.44" fill="#d4ff02"/>
<rect x="348.12" y="326.30" width="7.83" height="7.44" fill="#a4ff0d"/>
<rect x="355.65" y="326.30" width="7.83" height="7.44" fill="#8dff1b"/>
<rect x="363.18" y="326.30" width="7.83" height="7.44" fill="#74fe2b"/>
<rect x="370.71" y="326.30" width="7.83" height="7.44" fill="#01f96e"/>
<rect x="378.24" y="326.30" width="15.36" height="7.44" fill="#00ff9e"/>
<rect x="393.30" y="326.30" width="7.83" height="7.44" fill="#00ffd1"/>
<rect x="400.82" y="326.30" width="7.83" height="7.44" fill="#00a1ff"/>
<rect x="408.35" y="326.30" width="7.83" height="7.44" fill="#000080"/>
<rect x="415.88" y="326.30" width="7.83" height="7.44" fill="#00a1ff"/>
<rect x="423.41" y="326.30" width="7.83" height="7.44" fill="#00ffef"/>
<rect x="430.94" y="326.30" width="7.83" height="7.44" fill="#00ffad"/>
<rect x="438.47" y="326.30" width="7.83" height="7.44" fill="#00ff9e"/>
<rect x="446.00" y="326.30" width="6.40" height="7.44" fill="#00ff8f"/>
<rect x="78.60" y="333.44" width="6.30" height="7.44" fill="#d90000"/>
<rect x="84.60" y="333.44" width="7.83" height="7.44" fill="#ff3300"/>
<rect x="92.13" y="333.44" width="7.83" height="7.44" fill="#ff4e00"/>
<rect x="99.66" y="333.44" width="7.83" height="7.44" fill="#ffa200"/>
<rect x="107.19" y="333.44" width="7.83" height="7.44" fill="#ffb000"/>
<rect x="114.72" y="333.44" width="7.83" height="7.44" fill="#ffbd00"/>
<rect x="122.25" y="333.44" width="15.36" height="7.44" fill="#ffa200"/>
<rect x="137.30" y="333.44" width="7.83" height="7.44" fill="#ffb000"/>
<rect x="144.83" y="333.44" width="7.83" height="7.44" fill="#ffbd00"/>
<rect x="152.36" y="333.44" width="7.83" height="7.44" fill="#ffb000"/>
<rect x="159.89" y="333.44" width="7.83" height="7.44" fill="#fff600"/>
<rect x="167.42" y="333.44" width="7.83" height="7.44" fill="#ffcb00"/>
<rect x="174.95" y="333.44" width="7.83" height="7.44" fill="#ffd900"/>
<rect x="182.48" y="333.44" width="22.89" height="7.44" fill="#fff600"/>
<rect x="205.07" y="333.44" width="7.83" height="7.44" fill="#d4ff02"/>
<rect x="212.60" y="333.44" width="7.83" height="7.44" fill="#f8ff00"/>
<rect x="220.13" y="333.44" width="7.83" height="7.44" fill="#e8ff00"/>
<rect x="227.65" y="333.44" width="7.83" height="7.44" fill="#bcff05"/>
<rect x="235.18" y="333.44" width="7.83" height="7.44" fill="#e8ff00"/>
<rect x="242.71" y="333.44" width="7.83" height="7.44" fill="#d4ff02"/>
<rect x="250.24" y="333.44" width="7.83" height="7.44" fill="#bcff05"/>
<rect x="257.77" y="333.44" width="15.36" height="7.44" fill="#d4ff02"/>
<rect x="272.83" y="333.44" width="7.83" height="7.44" fill="#bcff05"/>
<rect x="280.36" y="333.44" width="7.83" height="7.44" fill="#d4ff02"/>
<rect x="287.89" y="333.44" width="7.83" height="7.44" fill="#bcff05"/>
<rect x="295.42" y="333.44" width="7.83" height="7.44" fill="#a4ff0d"/>
<rect x="302.95" y="333.44" width="7.83" height="7.44" fill="#74fe2b"/>
<rect x="310.47" y="333.44" width="7.83" height="7.44" fill="#22f957"/>
<rect x="318.00" y="333.44" width="7.83" height="7.44" fill="#a4ff0d"/>
<rect x="325.53" y="333.44" width="7.83" height="7.44" fill="#22f957"/>
<rect x="333.06" y="333.44" width="7.83" height="7.44" fill="#8dff1b"/>
<rect x="340.59" y="333.44" width="7.83" height="7.44" fill="#a4ff0d"/>
<rect x="348.12" y="333.44" width="7.83" height="7.44" fill="#8dff1b"/>
<rect x="355.65" y="333.44" width="7.83" height="7.44" fill="#a4ff0d"/>
<rect x="363.18" y="333.44" width="7.83" height="7.44" fill="#74fe2b"/>
<rect x="370.71" y="333.44" width="7.83" height="7.44" fill="#01f96e"/>
<rect x="378.24" y="333.44" width="15.36" height="7.44" fill="#00ff9e"/>
<rect x="393.30" y="333.44" width="7.83" height="7.44" fill="#00ffad"/>
<rect x="400.82" y="333.44" width="7.83" height="7.44" fill="#00bdff"/>
<rect x="408.35" y="333.44" width="7.83" height="7.44" fill="#00a1ff"/>
<rect x="415.88" y="333.44" width="7.83" height="7.44" fill="#000080"/>
<rect x="423.41" y="333.44" width="7.83" height="7.44" fill="#00e6fb"/>
<rect x="430.94" y="333.44" width="7.83" height="7.44" fill="#00ffbf"/>
<rect x="438.47" y="333.44" width="13.93" height="7.44" fill="#00ff9e"/>
<rect x="78.60" y="340.58" width="6.30" height="7.44" fill="#ff0a00"/>
<rect x="84.60" y="340.58" width="7.83" height="7.44" fill="#ff7200"/>
<rect x="92.13" y="340.58" width="7.83" height="7.44" fill="#ff8800"/>
<rect x="99.66" y="340.58" width="15.36" height="7.44" fill="#ffe700"/>
<rect x="114.72" y="340.58" width="7.83" height="7.44" fill="#fff600"/>
<rect x="122.25" y="340.58" width="22.89" height="7.44" fill="#ffd900"/>
<rect x="144.83" y="340.58" width="15.36" height="7.44" fill="#ffe700"/>
<rect x="159.89" y="340.58" width="7.83" height="7.44" fill="#d4ff02"/>
<rect x="167.42" y="340.58" width="7.83" height="7.44" fill="#fff600"/>
<rect x="174.95" y="340.58" width="7.83" height="7.44" fill="#f8ff00"/>
<rect x="182.48" y="340.58" width="22.89" height="7.44" fill="#e8ff00"/>
<rect x="205.07" y="340.58" width="7.83" height="7.44" fill="#8dff1b"/>
<rect x="212.60" y="340.58" width="7.83" height="7.44" fill="#bcff05"/>
<rect x="220.13" y="340.58" width="7.83" height="7.44" fill="#a4ff0d"/>
<rect x="227.65" y="340.58" width="7.83" height="7.44" fill="#92ff18"/>
<rect x="235.18" y="340.58" width="7.83" height="7.44" fill="#a9ff0a"/>
<rect x="242.71" y="340.58" width="22.89" height="7.44" fill="#92ff18"/>
<rect x="265.30" y="340.58" width="7.83" height="7.44" fill="#7aff26"/>
<rect x="272.83" y="340.58" width="7.83" height="7.44" fill="#00fb77"/>
<rect x="280.36" y="340.58" width="7.83" height="7.44" fill="#7aff26"/>
<rect x="287.89" y="340.58" width="7.83" height="7.44" fill="#00fb77"/>
<rect x="295.42" y="340.58" width="7.83" height="7.44" fill="#04f864"/>
<rect x="302.95" y="340.58" width="15.36" height="7.44" fill="#00fd83"/>
<rect x="318.00" y="340.58" width="7.83" height="7.44" fill="#02f96c"/>
<rect x="325.53" y="340.58" width="7.83" height="7.44" fill="#00fa71"/>
<rect x="333.06" y="340.58" width="7.83" height="7.44" fill="#00fa75"/>
<rect x="340.59" y="340.58" width="15.36" height="7.44" fill="#02f96c"/>
<rect x="355.65" y="340.58" width="15.36" height="7.44" fill="#04f864"/>
<rect x="370.71" y="340.58" width="7.83" height="7.44" fill="#00ff8a"/>
<rect x="378.24" y="340.58" width="15.36" height="7.44" fill="#00ffad"/>
<rect x="393.30" y="340.58" width="7.83" height="7.44" fill="#00ffd1"/>
<rect x="400.82" y="340.58" width="7.83" height="7.44" fill="#00ffe0"/>
<rect x="408.35" y="340.58" width="7.83" height="7.44" fill="#00ffef"/>
<rect x="415.88" y="340.58" width="7.83" height="7.44" fill="#00e6fb"/>
<rect x="423.41" y="340.58" width="7.83" height="7.44" fill="#000080"/>
<rect x="430.94" y="340.58" width="7.83" height="7.44" fill="#00ffef"/>
<rect x="438.47" y="340.58" width="7.83" height="7.44" fill="#00ffbf"/>
<rect x="446.00" y="340.58" width="6.40" height="7.44" fill="#00ffad"/>
<rect x="78.60" y="347.72" width="6.30" height="7.44" fill="#c40000"/>
<rect x="84.60" y="347.72" width="7.83" height="7.44" fill="#ff3300"/>
<rect x="92.13" y="347.72" width="7.83" height="7.44" fill="#ff4e00"/>
<rect x="99.66" y="347.72" width="15.36" height="7.44" fill="#ffa200"/>
<rect x="114.72" y="347.72" width="7.83" height="7.44" fill="#ffbd00"/>
<rect x="122.25" y="347.72" width="7.83" height="7.44" fill="#ffa200"/>
<rect x="129.78" y="347.72" width="7.83" height="7.44" fill="#ff9400"/>
<rect x="137.30" y="347.72" width="15.36" height="7.44" fill="#ffb000"/>
<rect x="152.36" y="347.72" width="7.83" height="7.44" fill="#ff9400"/>
<rect x="159.89" y="347.72" width="7.83" height="7.44" fill="#fff600"/>
<rect x="167.42" y="347.72" width="15.36" height="7.44" fill="#ffd900"/>
<rect x="182.48" y="347.72" width="15.36" height="7.44" fill="#ffe700"/>
<rect x="197.54" y="347.72" width="7.83" height="7.44" fill="#ffd900"/>
<rect x="205.07" y="347.72" width="7.83" height="7.44" fill="#d4ff02"/>
<rect x="212.60" y="347.72" width="7.83" height="7.44" fill="#fff600"/>
<rect x="220.13" y="347.72" width="7.83" height="7.44" fill="#f8ff00"/>
<rect x="227.65" y="347.72" width="7.83" height="7.44" fill="#e8ff00"/>
<rect x="235.18" y="347.72" width="7.83" height="7.44" fill="#ffd900"/>
<rect x="242.71" y="347.72" width="7.83" height="7.44" fill="#f8ff00"/>
<rect x="250.24" y="347.72" width="15.36" height="7.44" fill="#e8ff00"/>
<rect x="265.30" y="347.72" width="7.83" height="7.44" fill="#d4ff02"/>
<rect x="272.83" y="347.72" width="7.83" height="7.44" fill="#a4ff0d"/>
<rect x="280.36" y="347.72" width="7.83" height="7.44" fill="#bcff05"/>
<rect x="287.89" y="347.72" width="15.36" height="7.44" fill="#8dff1b"/>
<rect x="302.95" y="347.72" width="15.36" height="7.44" fill="#74fe2b"/>
<rect x="318.00" y="347.72" width="7.83" height="7.44" fill="#a4ff0d"/>
<rect x="325.53" y="347.72" width="7.83" height="7.44" fill="#22f957"/>
<rect x="333.06" y="347.72" width="7.83" height="7.44" fill="#53fc40"/>
<rect x="340.59" y="347.72" width="7.83" height="7.44" fill="#8dff1b"/>
<rect x="348.12" y="347.72" width="7.83" height="7.44" fill="#74fe2b"/>
<rect x="355.65" y="347.72" width="7.83" height="7.44" fill="#d4ff02"/>
<rect x="363.18" y="347.72" width="7.83" height="7.44" fill="#8dff1b"/>
<rect x="370.71" y="347.72" width="7.83" height="7.44" fill="#04f866"/>
<rect x="378.24" y="347.72" width="22.89" height="7.44" fill="#00ff8f"/>
<rect x="400.82" y="347.72" width="7.83" height="7.44" fill="#00ff9e"/>
<rect x="408.35" y="347.72" width="7.83" height="7.44" fill="#00ffad"/>
<rect x="415.88" y="347.72" width="7.83" height="7.44" fill="#00ffbf"/>
<rect x="423.41" y="347.72" width="7.83" height="7.44" fill="#00ffef"/>
<rect x="430.94" y="347.72" width="7.83" height="7.44" fill="#000080"/>
<rect x="438.47" y="347.72" width="7.83" height="7.44" fill="#00afff"/>
<rect x="446.00" y="347.72" width="6.40" height="7.44" fill="#00ffe0"/>
<rect x="78.60" y="354.86" width="6.30" height="7.44" fill="#f40000"/>
<rect x="84.60" y="354.86" width="7.83" height="7.44" fill="#ff5c00"/>
<rect x="92.13" y="354.86" width="7.83" height="7.44" fill="#ff6700"/>
<rect x="99.66" y="354.86" width="15.36" height="7.44" fill="#ffbd00"/>
<rect x="114.72" y="354.86" width="7.83" height="7.44" fill="#ffcb00"/>
<rect x="122.25" y="354.86" width="15.36" height="7.44" fill="#ffb000"/>
<rect x="137.30" y="354.86" width="15.36" height="7.44" fill="#ffbd00"/>
<rect x="152.36" y="354.86" width="7.83" height="7.44" fill="#ffb000"/>
<rect x="159.89" y="354.86" width="7.83" height="7.44" fill="#fff600"/>
<rect x="167.42" y="354.86" width="7.83" height="7.44" fill="#ffe700"/>
<rect x="174.95" y="354.86" width="30.42" height="7.44" fill="#fff600"/>
<rect x="205.07" y="354.86" width="7.83" height="7.44" fill="#bcff05"/>
<rect x="212.60" y="354.86" width="7.83" height="7.44" fill="#f8ff00"/>
<rect x="220.13" y="354.86" width="15.36" height="7.44" fill="#e8ff00"/>
<rect x="235.18" y="354.86" width="7.83" height="7.44" fill="#ffd900"/>
<rect x="242.71" y="354.86" width="7.83" height="7.44" fill="#e8ff00"/>
<rect x="250.24" y="354.86" width="22.89" height="7.44" fill="#d4ff02"/>
<rect x="272.83" y="354.86" width="7.83" height="7.44" fill="#a4ff0d"/>
<rect x="280.36" y="354.86" width="7.83" height="7.44" fill="#bcff05"/>
<rect x="287.89" y="354.86" width="15.36" height="7.44" fill="#a4ff0d"/>
<rect x="302.95" y="354.86" width="15.36" height="7.44" fill="#74fe2b"/>
<rect x="318.00" y="354.86" width="7.83" height="7.44" fill="#a4ff0d"/>
<rect x="325.53" y="354.86" width="15.36" height="7.44" fill="#53fc40"/>
<rect x="340.59" y="354.86" width="7.83" height="7.44" fill="#8dff1b"/>
<rect x="348.12" y="354.86" width="7.83" height="7.44" fill="#74fe2b"/>
<rect x="355.65" y="354.86" width="7.83" height="7.44" fill="#d4ff02"/>
<rect x="363.18" y="354.86" width="7.83" height="7.44" fill="#8dff1b"/>
<rect x="370.71" y="354.86" width="7.83" height="7.44" fill="#04f866"/>
<rect x="378.24" y="354.86" width="30.42" height="7.44" fill="#00ff8f"/>
<rect x="408.35" y="354.86" width="15.36" height="7.44" fill="#00ff9e"/>
<rect x="423.41" y="354.86" width="7.83" height="7.44" fill="#00ffbf"/>
<rect x="430.94" y="354.86" width="7.83" height="7.44" fill="#00afff"/>
<rect x="438.47" y="354.86" width="7.83" height="7.44" fill="#000080"/>
<rect x="446.00" y="354.86" width="6.40" height="7.44" fill="#00bdff"/>
<rect x="78.60" y="362.00" width="6.30" height="7.30" fill="#f40000"/>
<rect x="84.60" y="362.00" width="7.83" height="7.30" fill="#ff5c00"/>
<rect x="92.13" y="362.00" width="7.83" height="7.30" fill="#ff7200"/>
<rect x="99.66" y="362.00" width="15.36" height="7.30" fill="#ffbd00"/>
<rect x="114.72" y="362.00" width="7.83" height="7.30" fill="#ffcb00"/>
<rect x="122.25" y="362.00" width="15.36" height="7.30" fill="#ffb000"/>
<rect x="137.30" y="362.00" width="22.89" height="7.30" fill="#ffbd00"/>
<rect x="159.89" y="362.00" width="45.48" height="7.30" fill="#fff600"/>
<rect x="205.07" y="362.00" width="7.83" height="7.30" fill="#bcff05"/>
<rect x="212.60" y="362.00" width="7.83" height="7.30" fill="#f8ff00"/>
<rect x="220.13" y="362.00" width="7.83" height="7.30" fill="#e8ff00"/>
<rect x="227.65" y="362.00" width="7.83" height="7.30" fill="#d4ff02"/>
<rect x="235.18" y="362.00" width="7.83" height="7.30" fill="#f8ff00"/>
<rect x="242.71" y="362.00" width="7.83" height="7.30" fill="#d4ff02"/>
<rect x="250.24" y="362.00" width="15.36" height="7.30" fill="#bcff05"/>
<rect x="265.30" y="362.00" width="7.83" height="7.30" fill="#d4ff02"/>
<rect x="272.83" y="362.00" width="7.83" height="7.30" fill="#a4ff0d"/>
<rect x="280.36" y="362.00" width="7.83" height="7.30" fill="#bcff05"/>
<rect x="287.89" y="362.00" width="15.36" height="7.30" fill="#a4ff0d"/>
<rect x="302.95" y="362.00" width="15.36" height="7.30" fill="#74fe2b"/>
<rect x="318.00" y="362.00" width="7.83" height="7.30" fill="#a4ff0d"/>
<rect x="325.53" y="362.00" width="7.83" height="7.30" fill="#53fc40"/>
<rect x="333.06" y="362.00" width="7.83" height="7.30" fill="#74fe2b"/>
<rect x="340.59" y="362.00" width="7.83" height="7.30" fill="#8dff1b"/>
<rect x="348.12" y="362.00" width="7.83" height="7.30" fill="#74fe2b"/>
<rect x="355.65" y="362.00" width="7.83" height="7.30" fill="#bcff05"/>
<rect x="363.18" y="362.00" width="7.83" height="7.30" fill="#8dff1b"/>
<rect x="370.71" y="362.00" width="7.83" height="7.30" fill="#04f866"/>
<rect x="378.24" y="362.00" width="22.89" height="7.30" fill="#00ff8f"/>
<rect x="400.82" y="362.00" width="7.83" height="7.30" fill="#53fc40"/>
<rect x="408.35" y="362.00" width="7.83" height="7.30" fill="#00ff8f"/>
<rect x="415.88" y="362.00" width="7.83" height="7.30" fill="#00ff9e"/>
<rect x="423.41" y="362.00" width="7.83" height="7.30" fill="#00ffad"/>
<rect x="430.94" y="362.00" width="7.83" height="7.30" fill="#00ffe0"/>
<rect x="438.47" y="362.00" width="7.83" height="7.30" fill="#00bdff"/>
<rect x="446.00" y="362.00" width="6.40" height="7.30" fill="#000080"/>
</g></g>
<g filter="url(#tsoft)">
<rect x="78.6" y="14.3" width="373.5" height="354.7" fill="none" stroke="#000" stroke-width="1.3"/>
<g stroke="#000" stroke-width="1.2">
<line x1="82.4" y1="369.0" x2="82.4" y2="375.0"/>
<line x1="157.0" y1="369.0" x2="157.0" y2="375.0"/>
<line x1="231.7" y1="369.0" x2="231.7" y2="375.0"/>
<line x1="306.2" y1="369.0" x2="306.2" y2="375.0"/>
<line x1="380.8" y1="369.0" x2="380.8" y2="375.0"/>
<line x1="73.2" y1="18.6" x2="78.6" y2="18.6"/>
<line x1="73.2" y1="88.8" x2="78.6" y2="88.8"/>
<line x1="73.2" y1="160.5" x2="78.6" y2="160.5"/>
<line x1="73.2" y1="230.5" x2="78.6" y2="230.5"/>
<line x1="73.2" y1="300.6" x2="78.6" y2="300.6"/>
</g>
<text class="t" text-anchor="middle" transform="translate(81.8,392.3) scale(1.045,1.120)">0</text>
<text class="t" text-anchor="middle" transform="translate(156.4,392.3) scale(1.045,1.120)">10</text>
<text class="t" text-anchor="middle" transform="translate(231.1,392.3) scale(1.045,1.120)">20</text>
<text class="t" text-anchor="middle" transform="translate(305.6,392.3) scale(1.045,1.120)">30</text>
<text class="t" text-anchor="middle" transform="translate(380.2,392.3) scale(1.045,1.120)">40</text>
<text class="t" text-anchor="end" transform="translate(66.6,24.0) scale(1.045,1.120)">0</text>
<text class="t" text-anchor="end" transform="translate(63.0,94.3) scale(1.045,1.120)">10</text>
<text class="t" text-anchor="end" transform="translate(64.6,165.6) scale(1.045,1.120)">20</text>
<text class="t" text-anchor="end" transform="translate(64.6,235.9) scale(1.045,1.120)">30</text>
<text class="t" text-anchor="end" transform="translate(64.6,307.2) scale(1.045,1.120)">40</text>
<text class="t a" text-anchor="middle" transform="translate(265.6,415.2) scale(1.075,0.970)">Frame</text>
<text class="t a" text-anchor="middle" transform="translate(32.6,194.2) scale(1.04,1.0) rotate(-90)">Frame</text>
<rect x="481.7" y="14.3" width="19" height="354.5" fill="url(#jet)"/>
<rect x="481.7" y="14.3" width="19" height="354.5" fill="none" stroke="#000" stroke-width="1.3"/>
<g stroke="#000" stroke-width="1.2">
<line x1="500.7" y1="368.9" x2="506.8" y2="368.9"/>
<line x1="500.7" y1="320.9" x2="506.8" y2="320.9"/>
<line x1="500.7" y1="273.0" x2="506.8" y2="273.0"/>
<line x1="500.7" y1="225.0" x2="506.8" y2="225.0"/>
<line x1="500.7" y1="177.1" x2="506.8" y2="177.1"/>
<line x1="500.7" y1="129.1" x2="506.8" y2="129.1"/>
<line x1="500.7" y1="81.2" x2="506.8" y2="81.2"/>
<line x1="500.7" y1="33.2" x2="506.8" y2="33.2"/>
</g>
<text class="t" text-anchor="start" transform="translate(513.1,375.8) scale(1.045,1.120)">0.0</text>
<text class="t" text-anchor="start" transform="translate(513.1,327.8) scale(1.045,1.120)">0.5</text>
<text class="t" text-anchor="start" transform="translate(513.1,279.9) scale(1.045,1.120)">1.0</text>
<text class="t" text-anchor="start" transform="translate(513.1,231.9) scale(1.045,1.120)">1.5</text>
<text class="t" text-anchor="start" transform="translate(513.1,184.0) scale(1.045,1.120)">2.0</text>
<text class="t" text-anchor="start" transform="translate(513.1,136.0) scale(1.045,1.120)">2.5</text>
<text class="t" text-anchor="start" transform="translate(513.1,88.1) scale(1.045,1.120)">3.0</text>
<text class="t" text-anchor="start" transform="translate(513.1,40.1) scale(1.045,1.120)">3.5</text>
<text class="d" transform="translate(454.5,416.6) scale(1.07,1)">(d)</text>
</g>
</svg>
</body></html>
